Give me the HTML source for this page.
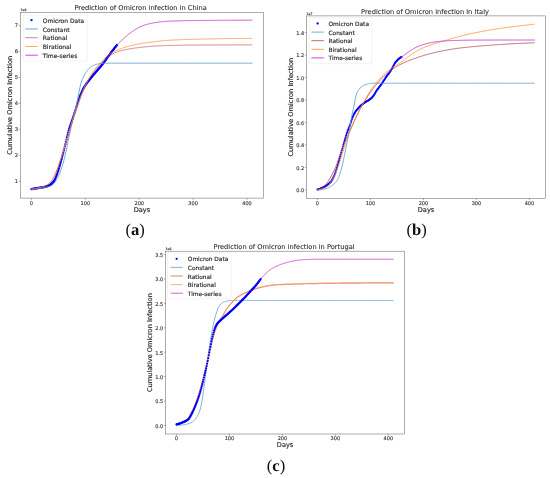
<!DOCTYPE html>
<html><head><meta charset="utf-8"><title>Prediction of Omicron infection</title>
<style>
html,body{margin:0;padding:0;background:#fff;}
body{width:550px;height:478px;overflow:hidden;}
svg{display:block;}
svg text{text-rendering:geometricPrecision;}
.t{stroke:#2a2a2a;stroke-width:0.16px;}
.tt{stroke:#2a2a2a;stroke-width:0.08px;}
.tk{stroke:#333;stroke-width:0.12px;}
</style></head>
<body>
<svg width="550" height="478" viewBox="0 0 550 478" font-family="'DejaVu Sans','Liberation Sans',sans-serif">
<rect width="550" height="478" fill="#fff"/>
<g id="china">
<g fill="#0000ff"><circle cx="31.45" cy="189.20" r="1.15"/><circle cx="31.99" cy="189.10" r="1.15"/><circle cx="32.53" cy="189.01" r="1.15"/><circle cx="33.07" cy="188.91" r="1.15"/><circle cx="33.61" cy="188.82" r="1.15"/><circle cx="34.14" cy="188.73" r="1.15"/><circle cx="34.68" cy="188.63" r="1.15"/><circle cx="35.22" cy="188.54" r="1.15"/><circle cx="35.76" cy="188.44" r="1.15"/><circle cx="36.30" cy="188.35" r="1.15"/><circle cx="36.84" cy="188.25" r="1.15"/><circle cx="37.38" cy="188.16" r="1.15"/><circle cx="37.92" cy="188.07" r="1.15"/><circle cx="38.45" cy="187.98" r="1.15"/><circle cx="38.99" cy="187.90" r="1.15"/><circle cx="39.53" cy="187.82" r="1.15"/><circle cx="40.07" cy="187.74" r="1.15"/><circle cx="40.61" cy="187.66" r="1.15"/><circle cx="41.15" cy="187.58" r="1.15"/><circle cx="41.69" cy="187.49" r="1.15"/><circle cx="42.23" cy="187.40" r="1.15"/><circle cx="42.76" cy="187.31" r="1.15"/><circle cx="43.30" cy="187.21" r="1.15"/><circle cx="43.84" cy="187.10" r="1.15"/><circle cx="44.38" cy="186.99" r="1.15"/><circle cx="44.92" cy="186.86" r="1.15"/><circle cx="45.46" cy="186.72" r="1.15"/><circle cx="46.00" cy="186.58" r="1.15"/><circle cx="46.54" cy="186.41" r="1.15"/><circle cx="47.08" cy="186.24" r="1.15"/><circle cx="47.61" cy="186.05" r="1.15"/><circle cx="48.15" cy="185.84" r="1.15"/><circle cx="48.69" cy="185.61" r="1.15"/><circle cx="49.23" cy="185.35" r="1.15"/><circle cx="49.77" cy="185.08" r="1.15"/><circle cx="50.31" cy="184.78" r="1.15"/><circle cx="50.85" cy="184.43" r="1.15"/><circle cx="51.39" cy="184.01" r="1.15"/><circle cx="51.92" cy="183.52" r="1.15"/><circle cx="52.46" cy="182.97" r="1.15"/><circle cx="53.00" cy="182.35" r="1.15"/><circle cx="53.54" cy="181.66" r="1.15"/><circle cx="54.08" cy="180.91" r="1.15"/><circle cx="54.62" cy="180.10" r="1.15"/><circle cx="55.16" cy="179.11" r="1.15"/><circle cx="55.70" cy="177.86" r="1.15"/><circle cx="56.23" cy="176.44" r="1.15"/><circle cx="56.77" cy="174.91" r="1.15"/><circle cx="57.31" cy="173.34" r="1.15"/><circle cx="57.85" cy="171.78" r="1.15"/><circle cx="58.39" cy="170.16" r="1.15"/><circle cx="58.93" cy="168.46" r="1.15"/><circle cx="59.47" cy="166.70" r="1.15"/><circle cx="60.01" cy="164.89" r="1.15"/><circle cx="60.55" cy="163.02" r="1.15"/><circle cx="61.08" cy="161.12" r="1.15"/><circle cx="61.62" cy="159.16" r="1.15"/><circle cx="62.16" cy="157.12" r="1.15"/><circle cx="62.70" cy="155.03" r="1.15"/><circle cx="63.24" cy="152.88" r="1.15"/><circle cx="63.78" cy="150.71" r="1.15"/><circle cx="64.32" cy="148.53" r="1.15"/><circle cx="64.86" cy="146.35" r="1.15"/><circle cx="65.39" cy="144.16" r="1.15"/><circle cx="65.93" cy="141.89" r="1.15"/><circle cx="66.47" cy="139.56" r="1.15"/><circle cx="67.01" cy="137.24" r="1.15"/><circle cx="67.55" cy="134.96" r="1.15"/><circle cx="68.09" cy="132.78" r="1.15"/><circle cx="68.63" cy="130.75" r="1.15"/><circle cx="69.17" cy="128.91" r="1.15"/><circle cx="69.70" cy="127.20" r="1.15"/><circle cx="70.24" cy="125.58" r="1.15"/><circle cx="70.78" cy="124.02" r="1.15"/><circle cx="71.32" cy="122.49" r="1.15"/><circle cx="71.86" cy="120.96" r="1.15"/><circle cx="72.40" cy="119.39" r="1.15"/><circle cx="72.94" cy="117.76" r="1.15"/><circle cx="73.48" cy="116.10" r="1.15"/><circle cx="74.02" cy="114.43" r="1.15"/><circle cx="74.55" cy="112.76" r="1.15"/><circle cx="75.09" cy="111.08" r="1.15"/><circle cx="75.63" cy="109.41" r="1.15"/><circle cx="76.17" cy="107.74" r="1.15"/><circle cx="76.71" cy="106.08" r="1.15"/><circle cx="77.25" cy="104.44" r="1.15"/><circle cx="77.79" cy="102.78" r="1.15"/><circle cx="78.33" cy="101.08" r="1.15"/><circle cx="78.86" cy="99.39" r="1.15"/><circle cx="79.40" cy="97.75" r="1.15"/><circle cx="79.94" cy="96.22" r="1.15"/><circle cx="80.48" cy="94.82" r="1.15"/><circle cx="81.02" cy="93.54" r="1.15"/><circle cx="81.56" cy="92.32" r="1.15"/><circle cx="82.10" cy="91.15" r="1.15"/><circle cx="82.64" cy="90.04" r="1.15"/><circle cx="83.17" cy="88.99" r="1.15"/><circle cx="83.71" cy="87.99" r="1.15"/><circle cx="84.25" cy="87.04" r="1.15"/><circle cx="84.79" cy="86.15" r="1.15"/><circle cx="85.33" cy="85.31" r="1.15"/><circle cx="85.87" cy="84.50" r="1.15"/><circle cx="86.41" cy="83.74" r="1.15"/><circle cx="86.95" cy="83.01" r="1.15"/><circle cx="87.49" cy="82.30" r="1.15"/><circle cx="88.02" cy="81.60" r="1.15"/><circle cx="88.56" cy="80.92" r="1.15"/><circle cx="89.10" cy="80.24" r="1.15"/><circle cx="89.64" cy="79.56" r="1.15"/><circle cx="90.18" cy="78.88" r="1.15"/><circle cx="90.72" cy="78.20" r="1.15"/><circle cx="91.26" cy="77.54" r="1.15"/><circle cx="91.80" cy="76.89" r="1.15"/><circle cx="92.33" cy="76.24" r="1.15"/><circle cx="92.87" cy="75.60" r="1.15"/><circle cx="93.41" cy="74.97" r="1.15"/><circle cx="93.95" cy="74.33" r="1.15"/><circle cx="94.49" cy="73.70" r="1.15"/><circle cx="95.03" cy="73.07" r="1.15"/><circle cx="95.57" cy="72.44" r="1.15"/><circle cx="96.11" cy="71.81" r="1.15"/><circle cx="96.64" cy="71.17" r="1.15"/><circle cx="97.18" cy="70.55" r="1.15"/><circle cx="97.72" cy="69.92" r="1.15"/><circle cx="98.26" cy="69.31" r="1.15"/><circle cx="98.80" cy="68.69" r="1.15"/><circle cx="99.34" cy="68.07" r="1.15"/><circle cx="99.88" cy="67.45" r="1.15"/><circle cx="100.42" cy="66.82" r="1.15"/><circle cx="100.96" cy="66.19" r="1.15"/><circle cx="101.49" cy="65.54" r="1.15"/><circle cx="102.03" cy="64.87" r="1.15"/><circle cx="102.57" cy="64.19" r="1.15"/><circle cx="103.11" cy="63.49" r="1.15"/><circle cx="103.65" cy="62.77" r="1.15"/><circle cx="104.19" cy="62.04" r="1.15"/><circle cx="104.73" cy="61.29" r="1.15"/><circle cx="105.27" cy="60.54" r="1.15"/><circle cx="105.80" cy="59.77" r="1.15"/><circle cx="106.34" cy="59.01" r="1.15"/><circle cx="106.88" cy="58.24" r="1.15"/><circle cx="107.42" cy="57.48" r="1.15"/><circle cx="107.96" cy="56.73" r="1.15"/><circle cx="108.50" cy="55.98" r="1.15"/><circle cx="109.04" cy="55.26" r="1.15"/><circle cx="109.58" cy="54.54" r="1.15"/><circle cx="110.11" cy="53.83" r="1.15"/><circle cx="110.65" cy="53.12" r="1.15"/><circle cx="111.19" cy="52.41" r="1.15"/><circle cx="111.73" cy="51.71" r="1.15"/><circle cx="112.27" cy="51.01" r="1.15"/><circle cx="112.81" cy="50.32" r="1.15"/><circle cx="113.35" cy="49.63" r="1.15"/><circle cx="113.89" cy="48.94" r="1.15"/><circle cx="114.43" cy="48.26" r="1.15"/><circle cx="114.96" cy="47.58" r="1.15"/><circle cx="115.50" cy="46.90" r="1.15"/><circle cx="116.04" cy="46.23" r="1.15"/><circle cx="116.58" cy="45.56" r="1.15"/><circle cx="117.12" cy="44.90" r="1.15"/></g>
<path d="M31.45,189.20 L31.99,189.19 L32.53,189.18 L33.07,189.16 L33.61,189.13 L34.14,189.10 L34.68,189.06 L35.22,189.02 L35.76,188.97 L36.30,188.92 L36.84,188.87 L37.38,188.81 L37.92,188.74 L38.45,188.68 L38.99,188.61 L39.53,188.54 L40.07,188.46 L40.61,188.39 L41.15,188.31 L41.69,188.24 L42.23,188.16 L42.76,188.08 L43.30,187.99 L43.84,187.89 L44.38,187.79 L44.92,187.68 L45.46,187.56 L46.00,187.44 L46.54,187.30 L47.08,187.16 L47.61,187.00 L48.15,186.84 L48.69,186.66 L49.23,186.48 L49.77,186.28 L50.31,186.07 L50.85,185.82 L51.39,185.54 L51.92,185.21 L52.46,184.83 L53.00,184.42 L53.54,183.95 L54.08,183.44 L54.62,182.84 L55.16,182.15 L55.70,181.35 L56.23,180.47 L56.77,179.53 L57.31,178.52 L57.85,177.47 L58.39,176.35 L58.93,175.15 L59.47,173.87 L60.01,172.51 L60.55,171.07 L61.08,169.55 L61.62,167.98 L62.16,166.34 L62.70,164.62 L63.24,162.80 L63.78,160.86 L64.32,158.80 L64.86,156.63 L65.39,154.36 L65.93,151.96 L66.47,149.39 L67.01,146.67 L67.55,143.90 L68.09,141.18 L68.63,138.57 L69.17,136.04 L69.70,133.56 L70.24,131.13 L70.78,128.73 L71.32,126.34 L71.86,123.97 L72.40,121.61 L72.94,119.29 L73.48,116.99 L74.02,114.72 L74.55,112.45 L75.09,110.15 L75.63,107.81 L76.17,105.39 L76.71,102.88 L77.25,100.28 L77.79,97.67 L78.33,95.08 L78.86,92.52 L79.40,89.96 L79.94,87.46 L80.48,85.12 L81.02,83.04 L81.56,81.28 L82.10,79.78 L82.64,78.44 L83.17,77.23 L83.71,76.12 L84.25,75.11 L84.79,74.17 L85.33,73.31 L85.87,72.51 L86.41,71.75 L86.95,71.02 L87.49,70.34 L88.02,69.69 L88.56,69.09 L89.10,68.52 L89.64,68.01 L90.18,67.55 L90.72,67.13 L91.26,66.76 L91.80,66.42 L92.33,66.09 L92.87,65.79 L93.41,65.51 L93.95,65.25 L94.49,65.02 L95.03,64.80 L95.57,64.61 L96.11,64.44 L96.64,64.28 L97.18,64.14 L97.72,64.00 L98.26,63.87 L98.80,63.75 L99.34,63.64 L99.88,63.54 L100.42,63.47 L100.96,63.41 L101.49,63.37 L102.03,63.34 L102.57,63.31 L103.11,63.29 L103.65,63.27 L104.19,63.25 L104.73,63.23 L105.27,63.22 L105.80,63.21 L106.34,63.21 L106.88,63.20 L107.42,63.20 L107.96,63.20 L108.50,63.20 L109.04,63.20 L109.58,63.20 L110.11,63.20 L110.65,63.20 L111.19,63.20 L111.73,63.20 L112.27,63.20 L112.81,63.20 L113.35,63.20 L113.89,63.20 L114.43,63.20 L114.96,63.20 L115.50,63.20 L116.04,63.20 L116.58,63.20 L117.12,63.20 L117.66,63.20 L118.20,63.20 L118.74,63.20 L119.27,63.20 L119.81,63.20 L120.35,63.20 L120.89,63.20 L121.43,63.20 L121.97,63.20 L122.51,63.20 L123.05,63.20 L123.58,63.20 L124.12,63.20 L124.66,63.20 L125.20,63.20 L125.74,63.20 L126.28,63.20 L126.82,63.20 L127.36,63.20 L127.90,63.20 L128.43,63.20 L128.97,63.20 L129.51,63.20 L130.05,63.20 L130.59,63.20 L131.13,63.20 L131.67,63.20 L132.21,63.20 L132.74,63.20 L133.28,63.20 L133.82,63.20 L134.36,63.20 L134.90,63.20 L135.44,63.20 L135.98,63.20 L136.52,63.20 L137.05,63.20 L137.59,63.20 L138.13,63.20 L138.67,63.20 L139.21,63.20 L139.75,63.20 L140.29,63.20 L140.83,63.20 L141.37,63.20 L141.90,63.20 L142.44,63.20 L142.98,63.20 L143.52,63.20 L144.06,63.20 L144.60,63.20 L145.14,63.20 L145.68,63.20 L146.21,63.20 L146.75,63.20 L147.29,63.20 L147.83,63.20 L148.37,63.20 L148.91,63.20 L149.45,63.20 L149.99,63.20 L150.52,63.20 L151.06,63.20 L151.60,63.20 L152.14,63.20 L152.68,63.20 L153.22,63.20 L153.76,63.20 L154.30,63.20 L154.84,63.20 L155.37,63.20 L155.91,63.20 L156.45,63.20 L156.99,63.20 L157.53,63.20 L158.07,63.20 L158.61,63.20 L159.15,63.20 L159.68,63.20 L160.22,63.20 L160.76,63.20 L161.30,63.20 L161.84,63.20 L162.38,63.20 L162.92,63.20 L163.46,63.20 L163.99,63.20 L164.53,63.20 L165.07,63.20 L165.61,63.20 L166.15,63.20 L166.69,63.20 L167.23,63.20 L167.77,63.20 L168.31,63.20 L168.84,63.20 L169.38,63.20 L169.92,63.20 L170.46,63.20 L171.00,63.20 L171.54,63.20 L172.08,63.20 L172.62,63.20 L173.15,63.20 L173.69,63.20 L174.23,63.20 L174.77,63.20 L175.31,63.20 L175.85,63.20 L176.39,63.20 L176.93,63.20 L177.46,63.20 L178.00,63.20 L178.54,63.20 L179.08,63.20 L179.62,63.20 L180.16,63.20 L180.70,63.20 L181.24,63.20 L181.78,63.20 L182.31,63.20 L182.85,63.20 L183.39,63.20 L183.93,63.20 L184.47,63.20 L185.01,63.20 L185.55,63.20 L186.09,63.20 L186.62,63.20 L187.16,63.20 L187.70,63.20 L188.24,63.20 L188.78,63.20 L189.32,63.20 L189.86,63.20 L190.40,63.20 L190.93,63.20 L191.47,63.20 L192.01,63.20 L192.55,63.20 L193.09,63.20 L193.63,63.20 L194.17,63.20 L194.71,63.20 L195.25,63.20 L195.78,63.20 L196.32,63.20 L196.86,63.20 L197.40,63.20 L197.94,63.20 L198.48,63.20 L199.02,63.20 L199.56,63.20 L200.09,63.20 L200.63,63.20 L201.17,63.20 L201.71,63.20 L202.25,63.20 L202.79,63.20 L203.33,63.20 L203.87,63.20 L204.40,63.20 L204.94,63.20 L205.48,63.20 L206.02,63.20 L206.56,63.20 L207.10,63.20 L207.64,63.20 L208.18,63.20 L208.72,63.20 L209.25,63.20 L209.79,63.20 L210.33,63.20 L210.87,63.20 L211.41,63.20 L211.95,63.20 L212.49,63.20 L213.03,63.20 L213.56,63.20 L214.10,63.20 L214.64,63.20 L215.18,63.20 L215.72,63.20 L216.26,63.20 L216.80,63.20 L217.34,63.20 L217.87,63.20 L218.41,63.20 L218.95,63.20 L219.49,63.20 L220.03,63.20 L220.57,63.20 L221.11,63.20 L221.65,63.20 L222.19,63.20 L222.72,63.20 L223.26,63.20 L223.80,63.20 L224.34,63.20 L224.88,63.20 L225.42,63.20 L225.96,63.20 L226.50,63.20 L227.03,63.20 L227.57,63.20 L228.11,63.20 L228.65,63.20 L229.19,63.20 L229.73,63.20 L230.27,63.20 L230.81,63.20 L231.34,63.20 L231.88,63.20 L232.42,63.20 L232.96,63.20 L233.50,63.20 L234.04,63.20 L234.58,63.20 L235.12,63.20 L235.66,63.20 L236.19,63.20 L236.73,63.20 L237.27,63.20 L237.81,63.20 L238.35,63.20 L238.89,63.20 L239.43,63.20 L239.97,63.20 L240.50,63.20 L241.04,63.20 L241.58,63.20 L242.12,63.20 L242.66,63.20 L243.20,63.20 L243.74,63.20 L244.28,63.20 L244.81,63.20 L245.35,63.20 L245.89,63.20 L246.43,63.20 L246.97,63.20 L247.51,63.20 L248.05,63.20 L248.59,63.20 L249.13,63.20 L249.66,63.20 L250.20,63.20 L250.74,63.20 L251.28,63.20 L251.82,63.20 L252.36,63.20" fill="none" stroke="#5d9fd3" stroke-width="0.9" stroke-linejoin="round" stroke-linecap="butt" />
<path d="M31.45,189.19 L31.99,189.11 L32.53,189.03 L33.07,188.94 L33.61,188.85 L34.14,188.75 L34.68,188.66 L35.22,188.56 L35.76,188.45 L36.30,188.34 L36.84,188.23 L37.38,188.12 L37.92,188.00 L38.45,187.88 L38.99,187.76 L39.53,187.63 L40.07,187.51 L40.61,187.38 L41.15,187.25 L41.69,187.11 L42.23,186.97 L42.76,186.83 L43.30,186.67 L43.84,186.50 L44.38,186.32 L44.92,186.13 L45.46,185.91 L46.00,185.68 L46.54,185.41 L47.08,185.12 L47.61,184.78 L48.15,184.41 L48.69,184.00 L49.23,183.55 L49.77,183.05 L50.31,182.50 L50.85,181.90 L51.39,181.24 L51.92,180.52 L52.46,179.72 L53.00,178.84 L53.54,177.89 L54.08,176.85 L54.62,175.75 L55.16,174.58 L55.70,173.34 L56.23,172.05 L56.77,170.70 L57.31,169.29 L57.85,167.84 L58.39,166.34 L58.93,164.80 L59.47,163.24 L60.01,161.65 L60.55,160.05 L61.08,158.43 L61.62,156.80 L62.16,155.15 L62.70,153.50 L63.24,151.83 L63.78,150.15 L64.32,148.45 L64.86,146.73 L65.39,144.99 L65.93,143.22 L66.47,141.42 L67.01,139.59 L67.55,137.73 L68.09,135.84 L68.63,133.95 L69.17,132.05 L69.70,130.16 L70.24,128.30 L70.78,126.47 L71.32,124.67 L71.86,122.91 L72.40,121.19 L72.94,119.51 L73.48,117.86 L74.02,116.24 L74.55,114.65 L75.09,113.08 L75.63,111.54 L76.17,110.00 L76.71,108.48 L77.25,106.95 L77.79,105.43 L78.33,103.90 L78.86,102.37 L79.40,100.85 L79.94,99.33 L80.48,97.84 L81.02,96.37 L81.56,94.93 L82.10,93.53 L82.64,92.17 L83.17,90.85 L83.71,89.57 L84.25,88.34 L84.79,87.14 L85.33,85.97 L85.87,84.84 L86.41,83.75 L86.95,82.69 L87.49,81.66 L88.02,80.67 L88.56,79.71 L89.10,78.79 L89.64,77.89 L90.18,77.02 L90.72,76.17 L91.26,75.35 L91.80,74.55 L92.33,73.78 L92.87,73.02 L93.41,72.28 L93.95,71.55 L94.49,70.85 L95.03,70.16 L95.57,69.49 L96.11,68.83 L96.64,68.19 L97.18,67.56 L97.72,66.95 L98.26,66.35 L98.80,65.76 L99.34,65.19 L99.88,64.64 L100.42,64.09 L100.96,63.56 L101.49,63.03 L102.03,62.51 L102.57,62.00 L103.11,61.50 L103.65,61.00 L104.19,60.50 L104.73,60.00 L105.27,59.50 L105.80,59.01 L106.34,58.52 L106.88,58.05 L107.42,57.59 L107.96,57.14 L108.50,56.71 L109.04,56.30 L109.58,55.91 L110.11,55.54 L110.65,55.18 L111.19,54.84 L111.73,54.51 L112.27,54.20 L112.81,53.89 L113.35,53.60 L113.89,53.32 L114.43,53.05 L114.96,52.79 L115.50,52.55 L116.04,52.32 L116.58,52.10 L117.12,51.90 L117.66,51.71 L118.20,51.53 L118.74,51.35 L119.27,51.19 L119.81,51.03 L120.35,50.88 L120.89,50.73 L121.43,50.59 L121.97,50.45 L122.51,50.31 L123.05,50.19 L123.58,50.06 L124.12,49.94 L124.66,49.82 L125.20,49.70 L125.74,49.59 L126.28,49.48 L126.82,49.38 L127.36,49.28 L127.90,49.18 L128.43,49.08 L128.97,48.99 L129.51,48.89 L130.05,48.80 L130.59,48.72 L131.13,48.63 L131.67,48.55 L132.21,48.46 L132.74,48.38 L133.28,48.30 L133.82,48.23 L134.36,48.15 L134.90,48.07 L135.44,48.00 L135.98,47.93 L136.52,47.86 L137.05,47.79 L137.59,47.72 L138.13,47.65 L138.67,47.58 L139.21,47.52 L139.75,47.45 L140.29,47.39 L140.83,47.33 L141.37,47.27 L141.90,47.21 L142.44,47.15 L142.98,47.09 L143.52,47.04 L144.06,46.98 L144.60,46.93 L145.14,46.88 L145.68,46.83 L146.21,46.78 L146.75,46.73 L147.29,46.68 L147.83,46.64 L148.37,46.59 L148.91,46.55 L149.45,46.51 L149.99,46.46 L150.52,46.42 L151.06,46.38 L151.60,46.34 L152.14,46.30 L152.68,46.26 L153.22,46.23 L153.76,46.19 L154.30,46.15 L154.84,46.11 L155.37,46.08 L155.91,46.04 L156.45,46.01 L156.99,45.98 L157.53,45.94 L158.07,45.91 L158.61,45.88 L159.15,45.85 L159.68,45.82 L160.22,45.79 L160.76,45.76 L161.30,45.74 L161.84,45.71 L162.38,45.69 L162.92,45.67 L163.46,45.64 L163.99,45.62 L164.53,45.60 L165.07,45.59 L165.61,45.57 L166.15,45.55 L166.69,45.54 L167.23,45.52 L167.77,45.51 L168.31,45.50 L168.84,45.48 L169.38,45.47 L169.92,45.46 L170.46,45.45 L171.00,45.43 L171.54,45.42 L172.08,45.41 L172.62,45.40 L173.15,45.38 L173.69,45.37 L174.23,45.36 L174.77,45.35 L175.31,45.34 L175.85,45.33 L176.39,45.32 L176.93,45.31 L177.46,45.30 L178.00,45.29 L178.54,45.28 L179.08,45.27 L179.62,45.26 L180.16,45.25 L180.70,45.24 L181.24,45.23 L181.78,45.22 L182.31,45.21 L182.85,45.20 L183.39,45.20 L183.93,45.19 L184.47,45.18 L185.01,45.17 L185.55,45.16 L186.09,45.16 L186.62,45.15 L187.16,45.14 L187.70,45.14 L188.24,45.13 L188.78,45.12 L189.32,45.12 L189.86,45.11 L190.40,45.11 L190.93,45.10 L191.47,45.09 L192.01,45.09 L192.55,45.08 L193.09,45.08 L193.63,45.07 L194.17,45.07 L194.71,45.06 L195.25,45.06 L195.78,45.06 L196.32,45.05 L196.86,45.05 L197.40,45.05 L197.94,45.04 L198.48,45.04 L199.02,45.04 L199.56,45.03 L200.09,45.03 L200.63,45.03 L201.17,45.03 L201.71,45.02 L202.25,45.02 L202.79,45.02 L203.33,45.02 L203.87,45.01 L204.40,45.01 L204.94,45.01 L205.48,45.01 L206.02,45.00 L206.56,45.00 L207.10,45.00 L207.64,45.00 L208.18,45.00 L208.72,44.99 L209.25,44.99 L209.79,44.99 L210.33,44.99 L210.87,44.99 L211.41,44.98 L211.95,44.98 L212.49,44.98 L213.03,44.98 L213.56,44.98 L214.10,44.97 L214.64,44.97 L215.18,44.97 L215.72,44.97 L216.26,44.97 L216.80,44.96 L217.34,44.96 L217.87,44.96 L218.41,44.96 L218.95,44.96 L219.49,44.96 L220.03,44.95 L220.57,44.95 L221.11,44.95 L221.65,44.95 L222.19,44.95 L222.72,44.95 L223.26,44.94 L223.80,44.94 L224.34,44.94 L224.88,44.94 L225.42,44.94 L225.96,44.94 L226.50,44.93 L227.03,44.93 L227.57,44.93 L228.11,44.93 L228.65,44.93 L229.19,44.93 L229.73,44.93 L230.27,44.93 L230.81,44.92 L231.34,44.92 L231.88,44.92 L232.42,44.92 L232.96,44.92 L233.50,44.92 L234.04,44.92 L234.58,44.92 L235.12,44.92 L235.66,44.92 L236.19,44.91 L236.73,44.91 L237.27,44.91 L237.81,44.91 L238.35,44.91 L238.89,44.91 L239.43,44.91 L239.97,44.91 L240.50,44.91 L241.04,44.91 L241.58,44.91 L242.12,44.91 L242.66,44.91 L243.20,44.90 L243.74,44.90 L244.28,44.90 L244.81,44.90 L245.35,44.90 L245.89,44.90 L246.43,44.90 L246.97,44.90 L247.51,44.90 L248.05,44.90 L248.59,44.90 L249.13,44.90 L249.66,44.90 L250.20,44.90 L250.74,44.90 L251.28,44.90 L251.82,44.90 L252.36,44.90" fill="none" stroke="#b84848" stroke-width="0.65" stroke-linejoin="round" stroke-linecap="butt" />
<path d="M31.45,189.19 L31.99,189.11 L32.53,189.04 L33.07,188.96 L33.61,188.87 L34.14,188.78 L34.68,188.68 L35.22,188.58 L35.76,188.48 L36.30,188.37 L36.84,188.25 L37.38,188.13 L37.92,188.01 L38.45,187.89 L38.99,187.76 L39.53,187.63 L40.07,187.49 L40.61,187.35 L41.15,187.21 L41.69,187.06 L42.23,186.90 L42.76,186.73 L43.30,186.55 L43.84,186.37 L44.38,186.16 L44.92,185.94 L45.46,185.70 L46.00,185.44 L46.54,185.15 L47.08,184.83 L47.61,184.47 L48.15,184.08 L48.69,183.64 L49.23,183.16 L49.77,182.64 L50.31,182.06 L50.85,181.44 L51.39,180.76 L51.92,180.02 L52.46,179.21 L53.00,178.32 L53.54,177.36 L54.08,176.33 L54.62,175.22 L55.16,174.04 L55.70,172.80 L56.23,171.49 L56.77,170.13 L57.31,168.70 L57.85,167.22 L58.39,165.69 L58.93,164.13 L59.47,162.54 L60.01,160.92 L60.55,159.30 L61.08,157.67 L61.62,156.02 L62.16,154.37 L62.70,152.72 L63.24,151.05 L63.78,149.36 L64.32,147.67 L64.86,145.95 L65.39,144.21 L65.93,142.44 L66.47,140.64 L67.01,138.81 L67.55,136.95 L68.09,135.07 L68.63,133.17 L69.17,131.27 L69.70,129.38 L70.24,127.52 L70.78,125.69 L71.32,123.89 L71.86,122.13 L72.40,120.40 L72.94,118.71 L73.48,117.04 L74.02,115.40 L74.55,113.79 L75.09,112.20 L75.63,110.62 L76.17,109.06 L76.71,107.51 L77.25,105.97 L77.79,104.44 L78.33,102.91 L78.86,101.39 L79.40,99.89 L79.94,98.40 L80.48,96.93 L81.02,95.49 L81.56,94.08 L82.10,92.72 L82.64,91.39 L83.17,90.11 L83.71,88.87 L84.25,87.67 L84.79,86.50 L85.33,85.36 L85.87,84.26 L86.41,83.18 L86.95,82.13 L87.49,81.10 L88.02,80.10 L88.56,79.11 L89.10,78.15 L89.64,77.22 L90.18,76.30 L90.72,75.40 L91.26,74.53 L91.80,73.68 L92.33,72.85 L92.87,72.05 L93.41,71.26 L93.95,70.51 L94.49,69.77 L95.03,69.05 L95.57,68.35 L96.11,67.66 L96.64,66.99 L97.18,66.34 L97.72,65.69 L98.26,65.06 L98.80,64.44 L99.34,63.82 L99.88,63.22 L100.42,62.62 L100.96,62.03 L101.49,61.46 L102.03,60.89 L102.57,60.33 L103.11,59.78 L103.65,59.24 L104.19,58.71 L104.73,58.19 L105.27,57.68 L105.80,57.18 L106.34,56.69 L106.88,56.21 L107.42,55.75 L107.96,55.31 L108.50,54.88 L109.04,54.48 L109.58,54.09 L110.11,53.73 L110.65,53.38 L111.19,53.05 L111.73,52.73 L112.27,52.42 L112.81,52.13 L113.35,51.84 L113.89,51.56 L114.43,51.30 L114.96,51.04 L115.50,50.79 L116.04,50.55 L116.58,50.31 L117.12,50.09 L117.66,49.86 L118.20,49.65 L118.74,49.44 L119.27,49.23 L119.81,49.02 L120.35,48.83 L120.89,48.63 L121.43,48.44 L121.97,48.25 L122.51,48.06 L123.05,47.88 L123.58,47.71 L124.12,47.53 L124.66,47.36 L125.20,47.19 L125.74,47.03 L126.28,46.87 L126.82,46.71 L127.36,46.56 L127.90,46.40 L128.43,46.26 L128.97,46.11 L129.51,45.97 L130.05,45.83 L130.59,45.70 L131.13,45.56 L131.67,45.43 L132.21,45.31 L132.74,45.18 L133.28,45.06 L133.82,44.94 L134.36,44.83 L134.90,44.71 L135.44,44.60 L135.98,44.49 L136.52,44.39 L137.05,44.28 L137.59,44.18 L138.13,44.08 L138.67,43.98 L139.21,43.89 L139.75,43.79 L140.29,43.70 L140.83,43.61 L141.37,43.52 L141.90,43.43 L142.44,43.35 L142.98,43.26 L143.52,43.18 L144.06,43.10 L144.60,43.02 L145.14,42.94 L145.68,42.87 L146.21,42.79 L146.75,42.72 L147.29,42.65 L147.83,42.58 L148.37,42.51 L148.91,42.44 L149.45,42.37 L149.99,42.30 L150.52,42.23 L151.06,42.16 L151.60,42.09 L152.14,42.02 L152.68,41.95 L153.22,41.88 L153.76,41.82 L154.30,41.75 L154.84,41.68 L155.37,41.61 L155.91,41.54 L156.45,41.47 L156.99,41.40 L157.53,41.34 L158.07,41.27 L158.61,41.21 L159.15,41.15 L159.68,41.08 L160.22,41.02 L160.76,40.97 L161.30,40.91 L161.84,40.85 L162.38,40.80 L162.92,40.75 L163.46,40.70 L163.99,40.65 L164.53,40.61 L165.07,40.57 L165.61,40.53 L166.15,40.49 L166.69,40.45 L167.23,40.41 L167.77,40.38 L168.31,40.35 L168.84,40.31 L169.38,40.28 L169.92,40.25 L170.46,40.22 L171.00,40.19 L171.54,40.16 L172.08,40.13 L172.62,40.10 L173.15,40.07 L173.69,40.04 L174.23,40.01 L174.77,39.99 L175.31,39.96 L175.85,39.93 L176.39,39.91 L176.93,39.88 L177.46,39.86 L178.00,39.83 L178.54,39.81 L179.08,39.78 L179.62,39.76 L180.16,39.74 L180.70,39.71 L181.24,39.69 L181.78,39.67 L182.31,39.65 L182.85,39.63 L183.39,39.61 L183.93,39.59 L184.47,39.57 L185.01,39.55 L185.55,39.53 L186.09,39.51 L186.62,39.49 L187.16,39.48 L187.70,39.46 L188.24,39.44 L188.78,39.43 L189.32,39.41 L189.86,39.40 L190.40,39.38 L190.93,39.37 L191.47,39.35 L192.01,39.34 L192.55,39.32 L193.09,39.31 L193.63,39.30 L194.17,39.28 L194.71,39.27 L195.25,39.26 L195.78,39.25 L196.32,39.23 L196.86,39.22 L197.40,39.21 L197.94,39.19 L198.48,39.18 L199.02,39.17 L199.56,39.16 L200.09,39.14 L200.63,39.13 L201.17,39.12 L201.71,39.11 L202.25,39.09 L202.79,39.08 L203.33,39.07 L203.87,39.06 L204.40,39.04 L204.94,39.03 L205.48,39.02 L206.02,39.01 L206.56,39.00 L207.10,38.98 L207.64,38.97 L208.18,38.96 L208.72,38.95 L209.25,38.94 L209.79,38.93 L210.33,38.91 L210.87,38.90 L211.41,38.89 L211.95,38.88 L212.49,38.87 L213.03,38.86 L213.56,38.85 L214.10,38.84 L214.64,38.83 L215.18,38.82 L215.72,38.81 L216.26,38.79 L216.80,38.78 L217.34,38.77 L217.87,38.76 L218.41,38.75 L218.95,38.74 L219.49,38.73 L220.03,38.72 L220.57,38.71 L221.11,38.70 L221.65,38.70 L222.19,38.69 L222.72,38.68 L223.26,38.67 L223.80,38.66 L224.34,38.65 L224.88,38.64 L225.42,38.63 L225.96,38.62 L226.50,38.62 L227.03,38.61 L227.57,38.60 L228.11,38.59 L228.65,38.58 L229.19,38.58 L229.73,38.57 L230.27,38.56 L230.81,38.55 L231.34,38.55 L231.88,38.54 L232.42,38.53 L232.96,38.53 L233.50,38.52 L234.04,38.51 L234.58,38.51 L235.12,38.50 L235.66,38.50 L236.19,38.49 L236.73,38.48 L237.27,38.48 L237.81,38.47 L238.35,38.47 L238.89,38.46 L239.43,38.46 L239.97,38.45 L240.50,38.45 L241.04,38.45 L241.58,38.44 L242.12,38.44 L242.66,38.43 L243.20,38.43 L243.74,38.43 L244.28,38.42 L244.81,38.42 L245.35,38.42 L245.89,38.42 L246.43,38.41 L246.97,38.41 L247.51,38.41 L248.05,38.41 L248.59,38.41 L249.13,38.40 L249.66,38.40 L250.20,38.40 L250.74,38.40 L251.28,38.40 L251.82,38.40 L252.36,38.40" fill="none" stroke="#ff8a2a" stroke-width="0.75" stroke-linejoin="round" stroke-linecap="butt" />
<path d="M116.58,45.51 L117.12,44.95 L117.66,44.40 L118.20,43.85 L118.74,43.32 L119.27,42.79 L119.81,42.27 L120.35,41.76 L120.89,41.24 L121.43,40.73 L121.97,40.22 L122.51,39.72 L123.05,39.21 L123.58,38.70 L124.12,38.20 L124.66,37.70 L125.20,37.21 L125.74,36.73 L126.28,36.25 L126.82,35.79 L127.36,35.33 L127.90,34.89 L128.43,34.45 L128.97,34.03 L129.51,33.61 L130.05,33.20 L130.59,32.79 L131.13,32.40 L131.67,32.01 L132.21,31.62 L132.74,31.25 L133.28,30.88 L133.82,30.52 L134.36,30.17 L134.90,29.83 L135.44,29.49 L135.98,29.16 L136.52,28.83 L137.05,28.51 L137.59,28.20 L138.13,27.89 L138.67,27.60 L139.21,27.31 L139.75,27.03 L140.29,26.76 L140.83,26.50 L141.37,26.26 L141.90,26.03 L142.44,25.82 L142.98,25.61 L143.52,25.42 L144.06,25.24 L144.60,25.06 L145.14,24.89 L145.68,24.72 L146.21,24.56 L146.75,24.41 L147.29,24.26 L147.83,24.11 L148.37,23.97 L148.91,23.83 L149.45,23.70 L149.99,23.57 L150.52,23.45 L151.06,23.33 L151.60,23.22 L152.14,23.11 L152.68,23.01 L153.22,22.91 L153.76,22.81 L154.30,22.72 L154.84,22.64 L155.37,22.55 L155.91,22.47 L156.45,22.40 L156.99,22.32 L157.53,22.25 L158.07,22.18 L158.61,22.11 L159.15,22.04 L159.68,21.98 L160.22,21.91 L160.76,21.85 L161.30,21.79 L161.84,21.73 L162.38,21.68 L162.92,21.63 L163.46,21.58 L163.99,21.53 L164.53,21.48 L165.07,21.44 L165.61,21.40 L166.15,21.36 L166.69,21.33 L167.23,21.30 L167.77,21.27 L168.31,21.24 L168.84,21.22 L169.38,21.19 L169.92,21.17 L170.46,21.15 L171.00,21.13 L171.54,21.11 L172.08,21.08 L172.62,21.06 L173.15,21.04 L173.69,21.02 L174.23,21.01 L174.77,20.99 L175.31,20.97 L175.85,20.95 L176.39,20.93 L176.93,20.91 L177.46,20.90 L178.00,20.88 L178.54,20.86 L179.08,20.85 L179.62,20.83 L180.16,20.82 L180.70,20.80 L181.24,20.79 L181.78,20.77 L182.31,20.76 L182.85,20.75 L183.39,20.73 L183.93,20.72 L184.47,20.71 L185.01,20.69 L185.55,20.68 L186.09,20.67 L186.62,20.66 L187.16,20.65 L187.70,20.64 L188.24,20.63 L188.78,20.62 L189.32,20.61 L189.86,20.60 L190.40,20.59 L190.93,20.58 L191.47,20.57 L192.01,20.56 L192.55,20.55 L193.09,20.54 L193.63,20.54 L194.17,20.53 L194.71,20.52 L195.25,20.51 L195.78,20.51 L196.32,20.50 L196.86,20.49 L197.40,20.49 L197.94,20.48 L198.48,20.48 L199.02,20.47 L199.56,20.47 L200.09,20.46 L200.63,20.46 L201.17,20.45 L201.71,20.45 L202.25,20.44 L202.79,20.44 L203.33,20.43 L203.87,20.43 L204.40,20.42 L204.94,20.42 L205.48,20.41 L206.02,20.41 L206.56,20.41 L207.10,20.40 L207.64,20.40 L208.18,20.39 L208.72,20.39 L209.25,20.38 L209.79,20.38 L210.33,20.38 L210.87,20.37 L211.41,20.37 L211.95,20.36 L212.49,20.36 L213.03,20.36 L213.56,20.35 L214.10,20.35 L214.64,20.34 L215.18,20.34 L215.72,20.34 L216.26,20.33 L216.80,20.33 L217.34,20.33 L217.87,20.32 L218.41,20.32 L218.95,20.32 L219.49,20.31 L220.03,20.31 L220.57,20.31 L221.11,20.30 L221.65,20.30 L222.19,20.30 L222.72,20.29 L223.26,20.29 L223.80,20.29 L224.34,20.28 L224.88,20.28 L225.42,20.28 L225.96,20.27 L226.50,20.27 L227.03,20.27 L227.57,20.27 L228.11,20.26 L228.65,20.26 L229.19,20.26 L229.73,20.26 L230.27,20.25 L230.81,20.25 L231.34,20.25 L231.88,20.25 L232.42,20.24 L232.96,20.24 L233.50,20.24 L234.04,20.24 L234.58,20.24 L235.12,20.23 L235.66,20.23 L236.19,20.23 L236.73,20.23 L237.27,20.23 L237.81,20.22 L238.35,20.22 L238.89,20.22 L239.43,20.22 L239.97,20.22 L240.50,20.22 L241.04,20.21 L241.58,20.21 L242.12,20.21 L242.66,20.21 L243.20,20.21 L243.74,20.21 L244.28,20.21 L244.81,20.21 L245.35,20.21 L245.89,20.21 L246.43,20.20 L246.97,20.20 L247.51,20.20 L248.05,20.20 L248.59,20.20 L249.13,20.20 L249.66,20.20 L250.20,20.20 L250.74,20.20 L251.28,20.20 L251.82,20.20 L252.36,20.20" fill="none" stroke="#d04ad0" stroke-width="1.0" stroke-linejoin="round" stroke-linecap="butt" />
<rect x="20.4" y="12.3" width="243.00" height="185.80" fill="none" stroke="#6a6a6a" stroke-width="0.55"/>
<line x1="31.45" y1="198.1" x2="31.45" y2="199.80" stroke="#555" stroke-width="0.45"/>
<text transform="translate(31.45,205.00) scale(1,1.0)" font-size="5.0" text-anchor="middle" class="tk" fill="#333">0</text>
<line x1="85.33" y1="198.1" x2="85.33" y2="199.80" stroke="#555" stroke-width="0.45"/>
<text transform="translate(85.33,205.00) scale(1,1.0)" font-size="5.0" text-anchor="middle" class="tk" fill="#333">100</text>
<line x1="139.21" y1="198.1" x2="139.21" y2="199.80" stroke="#555" stroke-width="0.45"/>
<text transform="translate(139.21,205.00) scale(1,1.0)" font-size="5.0" text-anchor="middle" class="tk" fill="#333">200</text>
<line x1="193.09" y1="198.1" x2="193.09" y2="199.80" stroke="#555" stroke-width="0.45"/>
<text transform="translate(193.09,205.00) scale(1,1.0)" font-size="5.0" text-anchor="middle" class="tk" fill="#333">300</text>
<line x1="246.97" y1="198.1" x2="246.97" y2="199.80" stroke="#555" stroke-width="0.45"/>
<text transform="translate(246.97,205.00) scale(1,1.0)" font-size="5.0" text-anchor="middle" class="tk" fill="#333">400</text>
<line x1="18.70" y1="181.40" x2="20.4" y2="181.40" stroke="#555" stroke-width="0.45"/>
<text transform="translate(18.00,183.25) scale(1,1.0)" font-size="5.2" text-anchor="end" class="tk" fill="#333">1</text>
<line x1="18.70" y1="155.40" x2="20.4" y2="155.40" stroke="#555" stroke-width="0.45"/>
<text transform="translate(18.00,157.25) scale(1,1.0)" font-size="5.2" text-anchor="end" class="tk" fill="#333">2</text>
<line x1="18.70" y1="129.40" x2="20.4" y2="129.40" stroke="#555" stroke-width="0.45"/>
<text transform="translate(18.00,131.25) scale(1,1.0)" font-size="5.2" text-anchor="end" class="tk" fill="#333">3</text>
<line x1="18.70" y1="103.40" x2="20.4" y2="103.40" stroke="#555" stroke-width="0.45"/>
<text transform="translate(18.00,105.25) scale(1,1.0)" font-size="5.2" text-anchor="end" class="tk" fill="#333">4</text>
<line x1="18.70" y1="77.40" x2="20.4" y2="77.40" stroke="#555" stroke-width="0.45"/>
<text transform="translate(18.00,79.25) scale(1,1.0)" font-size="5.2" text-anchor="end" class="tk" fill="#333">5</text>
<line x1="18.70" y1="51.40" x2="20.4" y2="51.40" stroke="#555" stroke-width="0.45"/>
<text transform="translate(18.00,53.25) scale(1,1.0)" font-size="5.2" text-anchor="end" class="tk" fill="#333">6</text>
<line x1="18.70" y1="25.40" x2="20.4" y2="25.40" stroke="#555" stroke-width="0.45"/>
<text transform="translate(18.00,27.25) scale(1,1.0)" font-size="5.2" text-anchor="end" class="tk" fill="#333">7</text>
<text x="20.40" y="11.00" font-size="3.2" class="t" fill="#444">1e6</text>
<text x="140.65" y="10.20" font-size="6.68" text-anchor="middle" class="tt" fill="#2a2a2a">Prediction of Omicron infection in China</text>
<text x="141.90" y="211.70" font-size="6.6" text-anchor="middle" class="t" fill="#2a2a2a">Days</text>
<text transform="translate(12.40,105.20) rotate(-90)" x="0" y="0" font-size="6.63" text-anchor="middle" class="t" fill="#2a2a2a">Cumulative Omicron Infection</text>
<rect x="23.2" y="15.0" width="64.0" height="46.0" rx="1.2" fill="#fff" fill-opacity="0.85" stroke="#e4e4e4" stroke-width="0.5"/>
<circle cx="31.55" cy="20.20" r="1.15" fill="#0000ff"/>
<text x="42.7" y="22.75" font-size="6.0" class="t" fill="#2a2a2a">Omicron Data</text>
<line x1="25.3" y1="28.95" x2="37.8" y2="28.95" stroke="#5d9fd3" stroke-width="0.9" />
<text x="42.7" y="31.50" font-size="6.0" class="t" fill="#2a2a2a">Constant</text>
<line x1="25.3" y1="37.70" x2="37.8" y2="37.70" stroke="#b84848" stroke-width="0.65" />
<text x="42.7" y="40.25" font-size="6.0" class="t" fill="#2a2a2a">Rational</text>
<line x1="25.3" y1="46.45" x2="37.8" y2="46.45" stroke="#ff8a2a" stroke-width="0.75" />
<text x="42.7" y="49.00" font-size="6.0" class="t" fill="#2a2a2a">Birational</text>
<line x1="25.3" y1="55.20" x2="37.8" y2="55.20" stroke="#d04ad0" stroke-width="1.0" />
<text x="42.7" y="57.75" font-size="6.0" class="t" fill="#2a2a2a">Time-series</text>
</g>
<g id="italy">
<g fill="#0000ff"><circle cx="317.40" cy="189.55" r="1.0"/><circle cx="317.93" cy="189.41" r="1.0"/><circle cx="318.46" cy="189.25" r="1.0"/><circle cx="318.99" cy="189.07" r="1.0"/><circle cx="319.52" cy="188.88" r="1.0"/><circle cx="320.05" cy="188.68" r="1.0"/><circle cx="320.58" cy="188.47" r="1.0"/><circle cx="321.11" cy="188.25" r="1.0"/><circle cx="321.64" cy="188.02" r="1.0"/><circle cx="322.17" cy="187.77" r="1.0"/><circle cx="322.70" cy="187.52" r="1.0"/><circle cx="323.23" cy="187.26" r="1.0"/><circle cx="323.76" cy="186.99" r="1.0"/><circle cx="324.29" cy="186.72" r="1.0"/><circle cx="324.82" cy="186.44" r="1.0"/><circle cx="325.35" cy="186.16" r="1.0"/><circle cx="325.88" cy="185.85" r="1.0"/><circle cx="326.41" cy="185.54" r="1.0"/><circle cx="326.94" cy="185.20" r="1.0"/><circle cx="327.47" cy="184.84" r="1.0"/><circle cx="328.00" cy="184.46" r="1.0"/><circle cx="328.53" cy="184.05" r="1.0"/><circle cx="329.06" cy="183.61" r="1.0"/><circle cx="329.59" cy="183.13" r="1.0"/><circle cx="330.12" cy="182.62" r="1.0"/><circle cx="330.65" cy="182.06" r="1.0"/><circle cx="331.18" cy="181.38" r="1.0"/><circle cx="331.71" cy="180.58" r="1.0"/><circle cx="332.24" cy="179.67" r="1.0"/><circle cx="332.77" cy="178.68" r="1.0"/><circle cx="333.30" cy="177.61" r="1.0"/><circle cx="333.83" cy="176.48" r="1.0"/><circle cx="334.36" cy="175.29" r="1.0"/><circle cx="334.89" cy="174.01" r="1.0"/><circle cx="335.42" cy="172.52" r="1.0"/><circle cx="335.95" cy="170.88" r="1.0"/><circle cx="336.48" cy="169.15" r="1.0"/><circle cx="337.01" cy="167.40" r="1.0"/><circle cx="337.54" cy="165.67" r="1.0"/><circle cx="338.07" cy="163.89" r="1.0"/><circle cx="338.60" cy="162.06" r="1.0"/><circle cx="339.13" cy="160.19" r="1.0"/><circle cx="339.66" cy="158.32" r="1.0"/><circle cx="340.19" cy="156.43" r="1.0"/><circle cx="340.72" cy="154.50" r="1.0"/><circle cx="341.25" cy="152.55" r="1.0"/><circle cx="341.78" cy="150.58" r="1.0"/><circle cx="342.31" cy="148.63" r="1.0"/><circle cx="342.84" cy="146.70" r="1.0"/><circle cx="343.37" cy="144.81" r="1.0"/><circle cx="343.90" cy="142.94" r="1.0"/><circle cx="344.43" cy="141.07" r="1.0"/><circle cx="344.96" cy="139.21" r="1.0"/><circle cx="345.49" cy="137.39" r="1.0"/><circle cx="346.02" cy="135.64" r="1.0"/><circle cx="346.55" cy="133.98" r="1.0"/><circle cx="347.08" cy="132.43" r="1.0"/><circle cx="347.61" cy="130.99" r="1.0"/><circle cx="348.14" cy="129.63" r="1.0"/><circle cx="348.67" cy="128.31" r="1.0"/><circle cx="349.20" cy="127.00" r="1.0"/><circle cx="349.73" cy="125.67" r="1.0"/><circle cx="350.26" cy="124.27" r="1.0"/><circle cx="350.79" cy="122.74" r="1.0"/><circle cx="351.32" cy="121.11" r="1.0"/><circle cx="351.85" cy="119.46" r="1.0"/><circle cx="352.38" cy="117.86" r="1.0"/><circle cx="352.91" cy="116.40" r="1.0"/><circle cx="353.44" cy="115.17" r="1.0"/><circle cx="353.97" cy="114.16" r="1.0"/><circle cx="354.50" cy="113.25" r="1.0"/><circle cx="355.03" cy="112.39" r="1.0"/><circle cx="355.56" cy="111.60" r="1.0"/><circle cx="356.09" cy="110.85" r="1.0"/><circle cx="356.62" cy="110.16" r="1.0"/><circle cx="357.15" cy="109.50" r="1.0"/><circle cx="357.68" cy="108.88" r="1.0"/><circle cx="358.21" cy="108.28" r="1.0"/><circle cx="358.74" cy="107.71" r="1.0"/><circle cx="359.27" cy="107.15" r="1.0"/><circle cx="359.80" cy="106.61" r="1.0"/><circle cx="360.33" cy="106.10" r="1.0"/><circle cx="360.86" cy="105.62" r="1.0"/><circle cx="361.39" cy="105.15" r="1.0"/><circle cx="361.92" cy="104.70" r="1.0"/><circle cx="362.45" cy="104.27" r="1.0"/><circle cx="362.98" cy="103.85" r="1.0"/><circle cx="363.51" cy="103.44" r="1.0"/><circle cx="364.04" cy="103.05" r="1.0"/><circle cx="364.57" cy="102.66" r="1.0"/><circle cx="365.10" cy="102.30" r="1.0"/><circle cx="365.63" cy="101.97" r="1.0"/><circle cx="366.16" cy="101.65" r="1.0"/><circle cx="366.69" cy="101.35" r="1.0"/><circle cx="367.22" cy="101.05" r="1.0"/><circle cx="367.75" cy="100.75" r="1.0"/><circle cx="368.28" cy="100.44" r="1.0"/><circle cx="368.81" cy="100.11" r="1.0"/><circle cx="369.34" cy="99.76" r="1.0"/><circle cx="369.87" cy="99.37" r="1.0"/><circle cx="370.40" cy="98.94" r="1.0"/><circle cx="370.93" cy="98.48" r="1.0"/><circle cx="371.46" cy="97.99" r="1.0"/><circle cx="371.99" cy="97.45" r="1.0"/><circle cx="372.52" cy="96.88" r="1.0"/><circle cx="373.05" cy="96.27" r="1.0"/><circle cx="373.58" cy="95.60" r="1.0"/><circle cx="374.11" cy="94.82" r="1.0"/><circle cx="374.64" cy="93.94" r="1.0"/><circle cx="375.17" cy="93.01" r="1.0"/><circle cx="375.70" cy="92.08" r="1.0"/><circle cx="376.23" cy="91.18" r="1.0"/><circle cx="376.76" cy="90.36" r="1.0"/><circle cx="377.29" cy="89.61" r="1.0"/><circle cx="377.82" cy="88.90" r="1.0"/><circle cx="378.35" cy="88.21" r="1.0"/><circle cx="378.88" cy="87.54" r="1.0"/><circle cx="379.41" cy="86.86" r="1.0"/><circle cx="379.94" cy="86.18" r="1.0"/><circle cx="380.47" cy="85.48" r="1.0"/><circle cx="381.00" cy="84.74" r="1.0"/><circle cx="381.53" cy="83.98" r="1.0"/><circle cx="382.06" cy="83.20" r="1.0"/><circle cx="382.59" cy="82.41" r="1.0"/><circle cx="383.12" cy="81.61" r="1.0"/><circle cx="383.65" cy="80.80" r="1.0"/><circle cx="384.18" cy="79.99" r="1.0"/><circle cx="384.71" cy="79.19" r="1.0"/><circle cx="385.24" cy="78.39" r="1.0"/><circle cx="385.77" cy="77.60" r="1.0"/><circle cx="386.30" cy="76.83" r="1.0"/><circle cx="386.83" cy="76.07" r="1.0"/><circle cx="387.36" cy="75.34" r="1.0"/><circle cx="387.89" cy="74.61" r="1.0"/><circle cx="388.42" cy="73.90" r="1.0"/><circle cx="388.95" cy="73.18" r="1.0"/><circle cx="389.48" cy="72.44" r="1.0"/><circle cx="390.01" cy="71.69" r="1.0"/><circle cx="390.54" cy="70.92" r="1.0"/><circle cx="391.07" cy="70.10" r="1.0"/><circle cx="391.60" cy="69.21" r="1.0"/><circle cx="392.13" cy="68.24" r="1.0"/><circle cx="392.66" cy="67.22" r="1.0"/><circle cx="393.19" cy="66.19" r="1.0"/><circle cx="393.72" cy="65.17" r="1.0"/><circle cx="394.25" cy="64.21" r="1.0"/><circle cx="394.78" cy="63.33" r="1.0"/><circle cx="395.31" cy="62.58" r="1.0"/><circle cx="395.84" cy="61.94" r="1.0"/><circle cx="396.37" cy="61.33" r="1.0"/><circle cx="396.90" cy="60.74" r="1.0"/><circle cx="397.43" cy="60.17" r="1.0"/><circle cx="397.96" cy="59.62" r="1.0"/><circle cx="398.49" cy="59.11" r="1.0"/><circle cx="399.02" cy="58.64" r="1.0"/><circle cx="399.55" cy="58.20" r="1.0"/><circle cx="400.08" cy="57.81" r="1.0"/><circle cx="400.61" cy="57.47" r="1.0"/><circle cx="401.14" cy="57.18" r="1.0"/><circle cx="401.67" cy="56.95" r="1.0"/></g>
<path d="M317.40,190.00 L317.93,189.98 L318.46,189.95 L318.99,189.91 L319.52,189.86 L320.05,189.81 L320.58,189.74 L321.11,189.67 L321.64,189.60 L322.17,189.52 L322.70,189.43 L323.23,189.34 L323.76,189.24 L324.29,189.12 L324.82,188.98 L325.35,188.84 L325.88,188.68 L326.41,188.51 L326.94,188.32 L327.47,188.13 L328.00,187.92 L328.53,187.69 L329.06,187.43 L329.59,187.14 L330.12,186.81 L330.65,186.46 L331.18,186.07 L331.71,185.67 L332.24,185.25 L332.77,184.81 L333.30,184.37 L333.83,183.93 L334.36,183.48 L334.89,183.00 L335.42,182.49 L335.95,181.93 L336.48,181.30 L337.01,180.57 L337.54,179.71 L338.07,178.69 L338.60,177.48 L339.13,176.10 L339.66,174.57 L340.19,172.93 L340.72,171.18 L341.25,169.34 L341.78,167.42 L342.31,165.36 L342.84,163.09 L343.37,160.60 L343.90,157.96 L344.43,155.25 L344.96,152.56 L345.49,149.93 L346.02,147.39 L346.55,144.89 L347.08,142.40 L347.61,139.88 L348.14,137.29 L348.67,134.58 L349.20,131.69 L349.73,128.52 L350.26,125.03 L350.79,121.44 L351.32,118.11 L351.85,115.31 L352.38,112.97 L352.91,110.83 L353.44,108.60 L353.97,106.07 L354.50,103.24 L355.03,100.32 L355.56,97.64 L356.09,95.47 L356.62,93.84 L357.15,92.57 L357.68,91.48 L358.21,90.54 L358.74,89.71 L359.27,88.99 L359.80,88.36 L360.33,87.82 L360.86,87.34 L361.39,86.90 L361.92,86.50 L362.45,86.13 L362.98,85.80 L363.51,85.51 L364.04,85.24 L364.57,85.02 L365.10,84.82 L365.63,84.64 L366.16,84.48 L366.69,84.32 L367.22,84.16 L367.75,84.01 L368.28,83.87 L368.81,83.74 L369.34,83.63 L369.87,83.52 L370.40,83.43 L370.93,83.36 L371.46,83.30 L371.99,83.27 L372.52,83.25 L373.05,83.24 L373.58,83.24 L374.11,83.24 L374.64,83.24 L375.17,83.24 L375.70,83.24 L376.23,83.24 L376.76,83.24 L377.29,83.24 L377.82,83.24 L378.35,83.24 L378.88,83.24 L379.41,83.24 L379.94,83.24 L380.47,83.24 L381.00,83.24 L381.53,83.24 L382.06,83.24 L382.59,83.24 L383.12,83.24 L383.65,83.24 L384.18,83.24 L384.71,83.24 L385.24,83.24 L385.77,83.24 L386.30,83.24 L386.83,83.24 L387.36,83.24 L387.89,83.24 L388.42,83.24 L388.95,83.24 L389.48,83.24 L390.01,83.24 L390.54,83.24 L391.07,83.24 L391.60,83.24 L392.13,83.24 L392.66,83.24 L393.19,83.24 L393.72,83.24 L394.25,83.24 L394.78,83.24 L395.31,83.24 L395.84,83.24 L396.37,83.24 L396.90,83.24 L397.43,83.24 L397.96,83.24 L398.49,83.24 L399.02,83.24 L399.55,83.24 L400.08,83.24 L400.61,83.24 L401.14,83.24 L401.67,83.24 L402.20,83.24 L402.73,83.24 L403.26,83.24 L403.79,83.24 L404.32,83.24 L404.85,83.24 L405.38,83.24 L405.91,83.24 L406.44,83.24 L406.97,83.24 L407.50,83.24 L408.03,83.24 L408.56,83.24 L409.09,83.24 L409.62,83.24 L410.15,83.24 L410.68,83.24 L411.21,83.24 L411.74,83.24 L412.27,83.24 L412.80,83.24 L413.33,83.24 L413.86,83.24 L414.39,83.24 L414.92,83.24 L415.45,83.24 L415.98,83.24 L416.51,83.24 L417.04,83.24 L417.57,83.24 L418.10,83.24 L418.63,83.24 L419.16,83.24 L419.69,83.24 L420.22,83.24 L420.75,83.24 L421.28,83.24 L421.81,83.24 L422.34,83.24 L422.87,83.24 L423.40,83.24 L423.93,83.24 L424.46,83.24 L424.99,83.24 L425.52,83.24 L426.05,83.24 L426.58,83.24 L427.11,83.24 L427.64,83.24 L428.17,83.24 L428.70,83.24 L429.23,83.24 L429.76,83.24 L430.29,83.24 L430.82,83.24 L431.35,83.24 L431.88,83.24 L432.41,83.24 L432.94,83.24 L433.47,83.24 L434.00,83.24 L434.53,83.24 L435.06,83.24 L435.59,83.24 L436.12,83.24 L436.65,83.24 L437.18,83.24 L437.71,83.24 L438.24,83.24 L438.77,83.24 L439.30,83.24 L439.83,83.24 L440.36,83.24 L440.89,83.24 L441.42,83.24 L441.95,83.24 L442.48,83.24 L443.01,83.24 L443.54,83.24 L444.07,83.24 L444.60,83.24 L445.13,83.24 L445.66,83.24 L446.19,83.24 L446.72,83.24 L447.25,83.24 L447.78,83.24 L448.31,83.24 L448.84,83.24 L449.37,83.24 L449.90,83.24 L450.43,83.24 L450.96,83.24 L451.49,83.24 L452.02,83.24 L452.55,83.24 L453.08,83.24 L453.61,83.24 L454.14,83.24 L454.67,83.24 L455.20,83.24 L455.73,83.24 L456.26,83.24 L456.79,83.24 L457.32,83.24 L457.85,83.24 L458.38,83.24 L458.91,83.24 L459.44,83.24 L459.97,83.24 L460.50,83.24 L461.03,83.24 L461.56,83.24 L462.09,83.24 L462.62,83.24 L463.15,83.24 L463.68,83.24 L464.21,83.24 L464.74,83.24 L465.27,83.24 L465.80,83.24 L466.33,83.24 L466.86,83.24 L467.39,83.24 L467.92,83.24 L468.45,83.24 L468.98,83.24 L469.51,83.24 L470.04,83.24 L470.57,83.24 L471.10,83.24 L471.63,83.24 L472.16,83.24 L472.69,83.24 L473.22,83.24 L473.75,83.24 L474.28,83.24 L474.81,83.24 L475.34,83.24 L475.87,83.24 L476.40,83.24 L476.93,83.24 L477.46,83.24 L477.99,83.24 L478.52,83.24 L479.05,83.24 L479.58,83.24 L480.11,83.24 L480.64,83.24 L481.17,83.24 L481.70,83.24 L482.23,83.24 L482.76,83.24 L483.29,83.24 L483.82,83.24 L484.35,83.24 L484.88,83.24 L485.41,83.24 L485.94,83.24 L486.47,83.24 L487.00,83.24 L487.53,83.24 L488.06,83.24 L488.59,83.24 L489.12,83.24 L489.65,83.24 L490.18,83.24 L490.71,83.24 L491.24,83.24 L491.77,83.24 L492.30,83.24 L492.83,83.24 L493.36,83.24 L493.89,83.24 L494.42,83.24 L494.95,83.24 L495.48,83.24 L496.01,83.24 L496.54,83.24 L497.07,83.24 L497.60,83.24 L498.13,83.24 L498.66,83.24 L499.19,83.24 L499.72,83.24 L500.25,83.24 L500.78,83.24 L501.31,83.24 L501.84,83.24 L502.37,83.24 L502.90,83.24 L503.43,83.24 L503.96,83.24 L504.49,83.24 L505.02,83.24 L505.55,83.24 L506.08,83.24 L506.61,83.24 L507.14,83.24 L507.67,83.24 L508.20,83.24 L508.73,83.24 L509.26,83.24 L509.79,83.24 L510.32,83.24 L510.85,83.24 L511.38,83.24 L511.91,83.24 L512.44,83.24 L512.97,83.24 L513.50,83.24 L514.03,83.24 L514.56,83.24 L515.09,83.24 L515.62,83.24 L516.15,83.24 L516.68,83.24 L517.21,83.24 L517.74,83.24 L518.27,83.24 L518.80,83.24 L519.33,83.24 L519.86,83.24 L520.39,83.24 L520.92,83.24 L521.45,83.24 L521.98,83.24 L522.51,83.24 L523.04,83.24 L523.57,83.24 L524.10,83.24 L524.63,83.24 L525.16,83.24 L525.69,83.24 L526.22,83.24 L526.75,83.24 L527.28,83.24 L527.81,83.24 L528.34,83.24 L528.87,83.24 L529.40,83.24 L529.93,83.24 L530.46,83.24 L530.99,83.24 L531.52,83.24 L532.05,83.24 L532.58,83.24 L533.11,83.24 L533.64,83.24 L534.17,83.24 L534.70,83.24" fill="none" stroke="#5b9bd0" stroke-width="0.85" stroke-linejoin="round" stroke-linecap="butt" />
<path d="M317.40,189.48 L317.93,189.38 L318.46,189.26 L318.99,189.13 L319.52,188.96 L320.05,188.78 L320.58,188.57 L321.11,188.33 L321.64,188.06 L322.17,187.76 L322.70,187.43 L323.23,187.06 L323.76,186.66 L324.29,186.21 L324.82,185.72 L325.35,185.19 L325.88,184.61 L326.41,183.98 L326.94,183.29 L327.47,182.55 L328.00,181.75 L328.53,180.90 L329.06,180.00 L329.59,179.07 L330.12,178.12 L330.65,177.14 L331.18,176.16 L331.71,175.16 L332.24,174.16 L332.77,173.15 L333.30,172.11 L333.83,171.05 L334.36,169.94 L334.89,168.77 L335.42,167.54 L335.95,166.24 L336.48,164.86 L337.01,163.41 L337.54,161.90 L338.07,160.36 L338.60,158.79 L339.13,157.24 L339.66,155.70 L340.19,154.21 L340.72,152.76 L341.25,151.35 L341.78,149.98 L342.31,148.64 L342.84,147.34 L343.37,146.06 L343.90,144.80 L344.43,143.56 L344.96,142.33 L345.49,141.11 L346.02,139.90 L346.55,138.69 L347.08,137.49 L347.61,136.29 L348.14,135.10 L348.67,133.90 L349.20,132.69 L349.73,131.49 L350.26,130.29 L350.79,129.08 L351.32,127.87 L351.85,126.67 L352.38,125.47 L352.91,124.27 L353.44,123.08 L353.97,121.89 L354.50,120.71 L355.03,119.54 L355.56,118.38 L356.09,117.23 L356.62,116.10 L357.15,114.97 L357.68,113.86 L358.21,112.77 L358.74,111.69 L359.27,110.64 L359.80,109.60 L360.33,108.58 L360.86,107.59 L361.39,106.61 L361.92,105.65 L362.45,104.71 L362.98,103.80 L363.51,102.89 L364.04,102.00 L364.57,101.13 L365.10,100.27 L365.63,99.42 L366.16,98.58 L366.69,97.75 L367.22,96.94 L367.75,96.13 L368.28,95.34 L368.81,94.56 L369.34,93.79 L369.87,93.03 L370.40,92.28 L370.93,91.55 L371.46,90.82 L371.99,90.11 L372.52,89.41 L373.05,88.72 L373.58,88.04 L374.11,87.36 L374.64,86.70 L375.17,86.05 L375.70,85.41 L376.23,84.78 L376.76,84.15 L377.29,83.53 L377.82,82.92 L378.35,82.31 L378.88,81.71 L379.41,81.12 L379.94,80.53 L380.47,79.95 L381.00,79.38 L381.53,78.81 L382.06,78.25 L382.59,77.70 L383.12,77.16 L383.65,76.63 L384.18,76.10 L384.71,75.59 L385.24,75.08 L385.77,74.59 L386.30,74.10 L386.83,73.63 L387.36,73.16 L387.89,72.71 L388.42,72.26 L388.95,71.83 L389.48,71.41 L390.01,71.00 L390.54,70.60 L391.07,70.20 L391.60,69.82 L392.13,69.45 L392.66,69.08 L393.19,68.72 L393.72,68.37 L394.25,68.02 L394.78,67.69 L395.31,67.35 L395.84,67.03 L396.37,66.71 L396.90,66.40 L397.43,66.10 L397.96,65.80 L398.49,65.50 L399.02,65.21 L399.55,64.93 L400.08,64.65 L400.61,64.38 L401.14,64.11 L401.67,63.85 L402.20,63.59 L402.73,63.34 L403.26,63.09 L403.79,62.84 L404.32,62.60 L404.85,62.37 L405.38,62.14 L405.91,61.91 L406.44,61.68 L406.97,61.46 L407.50,61.24 L408.03,61.03 L408.56,60.82 L409.09,60.61 L409.62,60.40 L410.15,60.20 L410.68,59.99 L411.21,59.79 L411.74,59.60 L412.27,59.40 L412.80,59.20 L413.33,59.01 L413.86,58.82 L414.39,58.62 L414.92,58.43 L415.45,58.24 L415.98,58.06 L416.51,57.87 L417.04,57.68 L417.57,57.50 L418.10,57.32 L418.63,57.14 L419.16,56.96 L419.69,56.78 L420.22,56.61 L420.75,56.43 L421.28,56.26 L421.81,56.09 L422.34,55.92 L422.87,55.76 L423.40,55.59 L423.93,55.43 L424.46,55.27 L424.99,55.11 L425.52,54.96 L426.05,54.80 L426.58,54.65 L427.11,54.51 L427.64,54.36 L428.17,54.21 L428.70,54.07 L429.23,53.93 L429.76,53.79 L430.29,53.65 L430.82,53.51 L431.35,53.38 L431.88,53.24 L432.41,53.11 L432.94,52.98 L433.47,52.85 L434.00,52.73 L434.53,52.60 L435.06,52.48 L435.59,52.35 L436.12,52.23 L436.65,52.12 L437.18,52.00 L437.71,51.88 L438.24,51.77 L438.77,51.66 L439.30,51.55 L439.83,51.44 L440.36,51.33 L440.89,51.22 L441.42,51.12 L441.95,51.01 L442.48,50.91 L443.01,50.80 L443.54,50.70 L444.07,50.60 L444.60,50.50 L445.13,50.40 L445.66,50.30 L446.19,50.20 L446.72,50.10 L447.25,50.00 L447.78,49.90 L448.31,49.81 L448.84,49.71 L449.37,49.62 L449.90,49.53 L450.43,49.44 L450.96,49.35 L451.49,49.26 L452.02,49.17 L452.55,49.08 L453.08,49.00 L453.61,48.91 L454.14,48.83 L454.67,48.75 L455.20,48.67 L455.73,48.59 L456.26,48.52 L456.79,48.44 L457.32,48.37 L457.85,48.30 L458.38,48.23 L458.91,48.16 L459.44,48.10 L459.97,48.03 L460.50,47.97 L461.03,47.90 L461.56,47.84 L462.09,47.78 L462.62,47.72 L463.15,47.66 L463.68,47.60 L464.21,47.54 L464.74,47.48 L465.27,47.42 L465.80,47.37 L466.33,47.31 L466.86,47.25 L467.39,47.20 L467.92,47.14 L468.45,47.09 L468.98,47.03 L469.51,46.98 L470.04,46.93 L470.57,46.87 L471.10,46.82 L471.63,46.77 L472.16,46.72 L472.69,46.67 L473.22,46.62 L473.75,46.57 L474.28,46.52 L474.81,46.47 L475.34,46.42 L475.87,46.37 L476.40,46.32 L476.93,46.27 L477.46,46.23 L477.99,46.18 L478.52,46.14 L479.05,46.09 L479.58,46.04 L480.11,46.00 L480.64,45.95 L481.17,45.91 L481.70,45.87 L482.23,45.82 L482.76,45.78 L483.29,45.74 L483.82,45.69 L484.35,45.65 L484.88,45.61 L485.41,45.57 L485.94,45.53 L486.47,45.49 L487.00,45.45 L487.53,45.41 L488.06,45.37 L488.59,45.33 L489.12,45.29 L489.65,45.25 L490.18,45.21 L490.71,45.17 L491.24,45.13 L491.77,45.09 L492.30,45.06 L492.83,45.02 L493.36,44.98 L493.89,44.95 L494.42,44.91 L494.95,44.87 L495.48,44.84 L496.01,44.80 L496.54,44.77 L497.07,44.73 L497.60,44.69 L498.13,44.66 L498.66,44.62 L499.19,44.59 L499.72,44.56 L500.25,44.52 L500.78,44.49 L501.31,44.45 L501.84,44.42 L502.37,44.39 L502.90,44.35 L503.43,44.32 L503.96,44.29 L504.49,44.25 L505.02,44.22 L505.55,44.19 L506.08,44.15 L506.61,44.12 L507.14,44.09 L507.67,44.06 L508.20,44.03 L508.73,44.00 L509.26,43.96 L509.79,43.93 L510.32,43.90 L510.85,43.87 L511.38,43.84 L511.91,43.81 L512.44,43.78 L512.97,43.75 L513.50,43.72 L514.03,43.69 L514.56,43.66 L515.09,43.63 L515.62,43.60 L516.15,43.58 L516.68,43.55 L517.21,43.52 L517.74,43.49 L518.27,43.46 L518.80,43.44 L519.33,43.41 L519.86,43.38 L520.39,43.36 L520.92,43.33 L521.45,43.30 L521.98,43.28 L522.51,43.25 L523.04,43.23 L523.57,43.20 L524.10,43.18 L524.63,43.15 L525.16,43.13 L525.69,43.10 L526.22,43.08 L526.75,43.06 L527.28,43.03 L527.81,43.01 L528.34,42.99 L528.87,42.96 L529.40,42.94 L529.93,42.92 L530.46,42.90 L530.99,42.88 L531.52,42.86 L532.05,42.84 L532.58,42.82 L533.11,42.80 L533.64,42.78 L534.17,42.76 L534.70,42.74" fill="none" stroke="#b4404a" stroke-width="0.8" stroke-linejoin="round" stroke-linecap="butt" />
<path d="M317.40,189.96 L317.93,189.90 L318.46,189.83 L318.99,189.75 L319.52,189.65 L320.05,189.54 L320.58,189.42 L321.11,189.29 L321.64,189.14 L322.17,188.98 L322.70,188.81 L323.23,188.62 L323.76,188.42 L324.29,188.19 L324.82,187.94 L325.35,187.67 L325.88,187.37 L326.41,187.03 L326.94,186.66 L327.47,186.24 L328.00,185.77 L328.53,185.23 L329.06,184.63 L329.59,183.97 L330.12,183.24 L330.65,182.45 L331.18,181.60 L331.71,180.71 L332.24,179.78 L332.77,178.81 L333.30,177.81 L333.83,176.77 L334.36,175.69 L334.89,174.58 L335.42,173.41 L335.95,172.20 L336.48,170.93 L337.01,169.61 L337.54,168.22 L338.07,166.78 L338.60,165.28 L339.13,163.72 L339.66,162.12 L340.19,160.48 L340.72,158.81 L341.25,157.12 L341.78,155.40 L342.31,153.67 L342.84,151.92 L343.37,150.17 L343.90,148.41 L344.43,146.67 L344.96,144.94 L345.49,143.23 L346.02,141.57 L346.55,139.94 L347.08,138.37 L347.61,136.84 L348.14,135.37 L348.67,133.94 L349.20,132.55 L349.73,131.21 L350.26,129.89 L350.79,128.61 L351.32,127.35 L351.85,126.11 L352.38,124.90 L352.91,123.70 L353.44,122.53 L353.97,121.37 L354.50,120.23 L355.03,119.11 L355.56,118.00 L356.09,116.91 L356.62,115.83 L357.15,114.76 L357.68,113.71 L358.21,112.67 L358.74,111.64 L359.27,110.62 L359.80,109.60 L360.33,108.60 L360.86,107.60 L361.39,106.61 L361.92,105.63 L362.45,104.64 L362.98,103.67 L363.51,102.70 L364.04,101.73 L364.57,100.77 L365.10,99.81 L365.63,98.86 L366.16,97.92 L366.69,96.98 L367.22,96.06 L367.75,95.14 L368.28,94.24 L368.81,93.34 L369.34,92.46 L369.87,91.59 L370.40,90.74 L370.93,89.91 L371.46,89.09 L371.99,88.28 L372.52,87.50 L373.05,86.73 L373.58,85.99 L374.11,85.26 L374.64,84.56 L375.17,83.87 L375.70,83.20 L376.23,82.55 L376.76,81.92 L377.29,81.29 L377.82,80.68 L378.35,80.08 L378.88,79.50 L379.41,78.92 L379.94,78.35 L380.47,77.80 L381.00,77.25 L381.53,76.71 L382.06,76.18 L382.59,75.66 L383.12,75.15 L383.65,74.65 L384.18,74.16 L384.71,73.68 L385.24,73.20 L385.77,72.73 L386.30,72.28 L386.83,71.83 L387.36,71.39 L387.89,70.95 L388.42,70.53 L388.95,70.11 L389.48,69.70 L390.01,69.31 L390.54,68.92 L391.07,68.54 L391.60,68.18 L392.13,67.82 L392.66,67.48 L393.19,67.14 L393.72,66.82 L394.25,66.50 L394.78,66.19 L395.31,65.88 L395.84,65.57 L396.37,65.27 L396.90,64.96 L397.43,64.66 L397.96,64.35 L398.49,64.03 L399.02,63.72 L399.55,63.39 L400.08,63.05 L400.61,62.71 L401.14,62.35 L401.67,61.98 L402.20,61.60 L402.73,61.20 L403.26,60.79 L403.79,60.37 L404.32,59.94 L404.85,59.50 L405.38,59.06 L405.91,58.61 L406.44,58.17 L406.97,57.73 L407.50,57.30 L408.03,56.88 L408.56,56.47 L409.09,56.08 L409.62,55.69 L410.15,55.32 L410.68,54.95 L411.21,54.60 L411.74,54.25 L412.27,53.91 L412.80,53.57 L413.33,53.23 L413.86,52.90 L414.39,52.58 L414.92,52.26 L415.45,51.94 L415.98,51.63 L416.51,51.32 L417.04,51.02 L417.57,50.72 L418.10,50.43 L418.63,50.14 L419.16,49.86 L419.69,49.58 L420.22,49.30 L420.75,49.04 L421.28,48.77 L421.81,48.51 L422.34,48.26 L422.87,48.01 L423.40,47.77 L423.93,47.54 L424.46,47.31 L424.99,47.08 L425.52,46.86 L426.05,46.65 L426.58,46.44 L427.11,46.23 L427.64,46.03 L428.17,45.83 L428.70,45.64 L429.23,45.45 L429.76,45.26 L430.29,45.08 L430.82,44.90 L431.35,44.72 L431.88,44.54 L432.41,44.37 L432.94,44.19 L433.47,44.02 L434.00,43.85 L434.53,43.68 L435.06,43.52 L435.59,43.35 L436.12,43.19 L436.65,43.03 L437.18,42.87 L437.71,42.72 L438.24,42.56 L438.77,42.41 L439.30,42.26 L439.83,42.10 L440.36,41.95 L440.89,41.80 L441.42,41.65 L441.95,41.50 L442.48,41.34 L443.01,41.19 L443.54,41.03 L444.07,40.88 L444.60,40.72 L445.13,40.57 L445.66,40.41 L446.19,40.26 L446.72,40.10 L447.25,39.94 L447.78,39.79 L448.31,39.63 L448.84,39.48 L449.37,39.32 L449.90,39.16 L450.43,39.01 L450.96,38.85 L451.49,38.70 L452.02,38.55 L452.55,38.39 L453.08,38.24 L453.61,38.09 L454.14,37.93 L454.67,37.78 L455.20,37.63 L455.73,37.48 L456.26,37.34 L456.79,37.19 L457.32,37.04 L457.85,36.90 L458.38,36.75 L458.91,36.61 L459.44,36.47 L459.97,36.33 L460.50,36.19 L461.03,36.05 L461.56,35.91 L462.09,35.77 L462.62,35.64 L463.15,35.50 L463.68,35.36 L464.21,35.23 L464.74,35.10 L465.27,34.97 L465.80,34.84 L466.33,34.71 L466.86,34.58 L467.39,34.45 L467.92,34.33 L468.45,34.21 L468.98,34.09 L469.51,33.97 L470.04,33.86 L470.57,33.74 L471.10,33.63 L471.63,33.52 L472.16,33.41 L472.69,33.30 L473.22,33.19 L473.75,33.08 L474.28,32.97 L474.81,32.86 L475.34,32.76 L475.87,32.65 L476.40,32.54 L476.93,32.44 L477.46,32.33 L477.99,32.23 L478.52,32.13 L479.05,32.03 L479.58,31.92 L480.11,31.82 L480.64,31.72 L481.17,31.62 L481.70,31.52 L482.23,31.42 L482.76,31.33 L483.29,31.23 L483.82,31.13 L484.35,31.04 L484.88,30.94 L485.41,30.85 L485.94,30.75 L486.47,30.66 L487.00,30.56 L487.53,30.47 L488.06,30.38 L488.59,30.29 L489.12,30.20 L489.65,30.11 L490.18,30.02 L490.71,29.93 L491.24,29.84 L491.77,29.75 L492.30,29.66 L492.83,29.58 L493.36,29.49 L493.89,29.40 L494.42,29.32 L494.95,29.23 L495.48,29.15 L496.01,29.06 L496.54,28.98 L497.07,28.90 L497.60,28.82 L498.13,28.73 L498.66,28.65 L499.19,28.57 L499.72,28.49 L500.25,28.41 L500.78,28.33 L501.31,28.26 L501.84,28.18 L502.37,28.10 L502.90,28.03 L503.43,27.95 L503.96,27.88 L504.49,27.80 L505.02,27.73 L505.55,27.66 L506.08,27.58 L506.61,27.51 L507.14,27.44 L507.67,27.37 L508.20,27.30 L508.73,27.23 L509.26,27.16 L509.79,27.10 L510.32,27.03 L510.85,26.96 L511.38,26.89 L511.91,26.82 L512.44,26.76 L512.97,26.69 L513.50,26.63 L514.03,26.56 L514.56,26.49 L515.09,26.43 L515.62,26.36 L516.15,26.30 L516.68,26.23 L517.21,26.17 L517.74,26.10 L518.27,26.04 L518.80,25.98 L519.33,25.91 L519.86,25.85 L520.39,25.78 L520.92,25.72 L521.45,25.66 L521.98,25.60 L522.51,25.53 L523.04,25.47 L523.57,25.41 L524.10,25.35 L524.63,25.29 L525.16,25.22 L525.69,25.16 L526.22,25.10 L526.75,25.04 L527.28,24.98 L527.81,24.92 L528.34,24.86 L528.87,24.81 L529.40,24.75 L529.93,24.69 L530.46,24.63 L530.99,24.57 L531.52,24.52 L532.05,24.46 L532.58,24.40 L533.11,24.34 L533.64,24.29 L534.17,24.23 L534.70,24.18" fill="none" stroke="#ff8a2a" stroke-width="0.8" stroke-linejoin="round" stroke-linecap="butt" />
<path d="M401.14,57.40 L401.67,56.99 L402.20,56.59 L402.73,56.19 L403.26,55.79 L403.79,55.39 L404.32,55.00 L404.85,54.60 L405.38,54.21 L405.91,53.82 L406.44,53.44 L406.97,53.06 L407.50,52.68 L408.03,52.31 L408.56,51.95 L409.09,51.60 L409.62,51.25 L410.15,50.90 L410.68,50.56 L411.21,50.21 L411.74,49.87 L412.27,49.54 L412.80,49.21 L413.33,48.88 L413.86,48.56 L414.39,48.25 L414.92,47.96 L415.45,47.67 L415.98,47.39 L416.51,47.13 L417.04,46.88 L417.57,46.64 L418.10,46.41 L418.63,46.19 L419.16,45.97 L419.69,45.75 L420.22,45.55 L420.75,45.35 L421.28,45.16 L421.81,44.97 L422.34,44.79 L422.87,44.62 L423.40,44.46 L423.93,44.31 L424.46,44.16 L424.99,44.02 L425.52,43.87 L426.05,43.74 L426.58,43.60 L427.11,43.47 L427.64,43.34 L428.17,43.21 L428.70,43.09 L429.23,42.97 L429.76,42.86 L430.29,42.74 L430.82,42.64 L431.35,42.53 L431.88,42.43 L432.41,42.34 L432.94,42.25 L433.47,42.17 L434.00,42.09 L434.53,42.01 L435.06,41.94 L435.59,41.88 L436.12,41.81 L436.65,41.75 L437.18,41.69 L437.71,41.63 L438.24,41.57 L438.77,41.51 L439.30,41.45 L439.83,41.40 L440.36,41.34 L440.89,41.29 L441.42,41.24 L441.95,41.19 L442.48,41.14 L443.01,41.09 L443.54,41.05 L444.07,41.00 L444.60,40.96 L445.13,40.92 L445.66,40.88 L446.19,40.85 L446.72,40.81 L447.25,40.78 L447.78,40.75 L448.31,40.72 L448.84,40.69 L449.37,40.66 L449.90,40.64 L450.43,40.62 L450.96,40.60 L451.49,40.58 L452.02,40.56 L452.55,40.55 L453.08,40.53 L453.61,40.51 L454.14,40.50 L454.67,40.48 L455.20,40.46 L455.73,40.45 L456.26,40.43 L456.79,40.42 L457.32,40.40 L457.85,40.39 L458.38,40.38 L458.91,40.36 L459.44,40.35 L459.97,40.33 L460.50,40.32 L461.03,40.31 L461.56,40.30 L462.09,40.28 L462.62,40.27 L463.15,40.26 L463.68,40.25 L464.21,40.24 L464.74,40.23 L465.27,40.22 L465.80,40.21 L466.33,40.20 L466.86,40.19 L467.39,40.18 L467.92,40.17 L468.45,40.17 L468.98,40.16 L469.51,40.15 L470.04,40.14 L470.57,40.14 L471.10,40.13 L471.63,40.13 L472.16,40.12 L472.69,40.12 L473.22,40.11 L473.75,40.11 L474.28,40.10 L474.81,40.10 L475.34,40.10 L475.87,40.10 L476.40,40.09 L476.93,40.09 L477.46,40.09 L477.99,40.09 L478.52,40.09 L479.05,40.09 L479.58,40.08 L480.11,40.08 L480.64,40.08 L481.17,40.08 L481.70,40.08 L482.23,40.08 L482.76,40.07 L483.29,40.07 L483.82,40.07 L484.35,40.07 L484.88,40.07 L485.41,40.07 L485.94,40.07 L486.47,40.06 L487.00,40.06 L487.53,40.06 L488.06,40.06 L488.59,40.06 L489.12,40.06 L489.65,40.06 L490.18,40.06 L490.71,40.05 L491.24,40.05 L491.77,40.05 L492.30,40.05 L492.83,40.05 L493.36,40.05 L493.89,40.05 L494.42,40.05 L494.95,40.04 L495.48,40.04 L496.01,40.04 L496.54,40.04 L497.07,40.04 L497.60,40.04 L498.13,40.04 L498.66,40.04 L499.19,40.04 L499.72,40.03 L500.25,40.03 L500.78,40.03 L501.31,40.03 L501.84,40.03 L502.37,40.03 L502.90,40.03 L503.43,40.03 L503.96,40.03 L504.49,40.03 L505.02,40.03 L505.55,40.03 L506.08,40.02 L506.61,40.02 L507.14,40.02 L507.67,40.02 L508.20,40.02 L508.73,40.02 L509.26,40.02 L509.79,40.02 L510.32,40.02 L510.85,40.02 L511.38,40.02 L511.91,40.02 L512.44,40.02 L512.97,40.02 L513.50,40.01 L514.03,40.01 L514.56,40.01 L515.09,40.01 L515.62,40.01 L516.15,40.01 L516.68,40.01 L517.21,40.01 L517.74,40.01 L518.27,40.01 L518.80,40.01 L519.33,40.01 L519.86,40.01 L520.39,40.01 L520.92,40.01 L521.45,40.01 L521.98,40.01 L522.51,40.01 L523.04,40.01 L523.57,40.01 L524.10,40.01 L524.63,40.01 L525.16,40.01 L525.69,40.01 L526.22,40.01 L526.75,40.01 L527.28,40.01 L527.81,40.00 L528.34,40.00 L528.87,40.00 L529.40,40.00 L529.93,40.00 L530.46,40.00 L530.99,40.00 L531.52,40.00 L532.05,40.00 L532.58,40.00 L533.11,40.00 L533.64,40.00 L534.17,40.00 L534.70,40.00" fill="none" stroke="#cf44cf" stroke-width="1.0" stroke-linejoin="round" stroke-linecap="butt" />
<rect x="306.5" y="15.9" width="239.00" height="182.50" fill="none" stroke="#6a6a6a" stroke-width="0.55"/>
<line x1="317.40" y1="198.4" x2="317.40" y2="200.10" stroke="#555" stroke-width="0.45"/>
<text transform="translate(317.40,205.30) scale(1,1.0)" font-size="5.0" text-anchor="middle" class="tk" fill="#333">0</text>
<line x1="370.40" y1="198.4" x2="370.40" y2="200.10" stroke="#555" stroke-width="0.45"/>
<text transform="translate(370.40,205.30) scale(1,1.0)" font-size="5.0" text-anchor="middle" class="tk" fill="#333">100</text>
<line x1="423.40" y1="198.4" x2="423.40" y2="200.10" stroke="#555" stroke-width="0.45"/>
<text transform="translate(423.40,205.30) scale(1,1.0)" font-size="5.0" text-anchor="middle" class="tk" fill="#333">200</text>
<line x1="476.40" y1="198.4" x2="476.40" y2="200.10" stroke="#555" stroke-width="0.45"/>
<text transform="translate(476.40,205.30) scale(1,1.0)" font-size="5.0" text-anchor="middle" class="tk" fill="#333">300</text>
<line x1="529.40" y1="198.4" x2="529.40" y2="200.10" stroke="#555" stroke-width="0.45"/>
<text transform="translate(529.40,205.30) scale(1,1.0)" font-size="5.0" text-anchor="middle" class="tk" fill="#333">400</text>
<line x1="304.80" y1="190.00" x2="306.5" y2="190.00" stroke="#555" stroke-width="0.45"/>
<text transform="translate(304.10,192.35) scale(1,1.0)" font-size="5.0" text-anchor="end" class="tk" fill="#333">0.0</text>
<line x1="304.80" y1="167.50" x2="306.5" y2="167.50" stroke="#555" stroke-width="0.45"/>
<text transform="translate(304.10,169.85) scale(1,1.0)" font-size="5.0" text-anchor="end" class="tk" fill="#333">0.2</text>
<line x1="304.80" y1="145.00" x2="306.5" y2="145.00" stroke="#555" stroke-width="0.45"/>
<text transform="translate(304.10,147.35) scale(1,1.0)" font-size="5.0" text-anchor="end" class="tk" fill="#333">0.4</text>
<line x1="304.80" y1="122.50" x2="306.5" y2="122.50" stroke="#555" stroke-width="0.45"/>
<text transform="translate(304.10,124.85) scale(1,1.0)" font-size="5.0" text-anchor="end" class="tk" fill="#333">0.6</text>
<line x1="304.80" y1="100.00" x2="306.5" y2="100.00" stroke="#555" stroke-width="0.45"/>
<text transform="translate(304.10,102.35) scale(1,1.0)" font-size="5.0" text-anchor="end" class="tk" fill="#333">0.8</text>
<line x1="304.80" y1="77.50" x2="306.5" y2="77.50" stroke="#555" stroke-width="0.45"/>
<text transform="translate(304.10,79.85) scale(1,1.0)" font-size="5.0" text-anchor="end" class="tk" fill="#333">1.0</text>
<line x1="304.80" y1="55.00" x2="306.5" y2="55.00" stroke="#555" stroke-width="0.45"/>
<text transform="translate(304.10,57.35) scale(1,1.0)" font-size="5.0" text-anchor="end" class="tk" fill="#333">1.2</text>
<line x1="304.80" y1="32.50" x2="306.5" y2="32.50" stroke="#555" stroke-width="0.45"/>
<text transform="translate(304.10,34.85) scale(1,1.0)" font-size="5.0" text-anchor="end" class="tk" fill="#333">1.4</text>
<text x="306.50" y="14.60" font-size="3.2" class="t" fill="#444">1e7</text>
<text x="425.00" y="13.80" font-size="6.68" text-anchor="middle" class="tt" fill="#2a2a2a">Prediction of Omicron infection in Italy</text>
<text x="426.00" y="212.00" font-size="6.6" text-anchor="middle" class="t" fill="#2a2a2a">Days</text>
<text transform="translate(292.60,107.15) rotate(-90)" x="0" y="0" font-size="6.63" text-anchor="middle" class="t" fill="#2a2a2a">Cumulative Omicron Infection</text>
<rect x="309.3" y="17.9" width="62.5" height="45.8" rx="1.2" fill="#fff" fill-opacity="0.85" stroke="#e4e4e4" stroke-width="0.5"/>
<circle cx="317.60" cy="23.50" r="1.15" fill="#0000ff"/>
<text x="328.5" y="26.05" font-size="5.85" class="t" fill="#2a2a2a">Omicron Data</text>
<line x1="311.4" y1="32.10" x2="323.8" y2="32.10" stroke="#5b9bd0" stroke-width="0.85" />
<text x="328.5" y="34.65" font-size="5.85" class="t" fill="#2a2a2a">Constant</text>
<line x1="311.4" y1="40.70" x2="323.8" y2="40.70" stroke="#b4404a" stroke-width="0.8" />
<text x="328.5" y="43.25" font-size="5.85" class="t" fill="#2a2a2a">Rational</text>
<line x1="311.4" y1="49.30" x2="323.8" y2="49.30" stroke="#ff8a2a" stroke-width="0.8" />
<text x="328.5" y="51.85" font-size="5.85" class="t" fill="#2a2a2a">Birational</text>
<line x1="311.4" y1="57.90" x2="323.8" y2="57.90" stroke="#cf44cf" stroke-width="1.0" />
<text x="328.5" y="60.45" font-size="5.85" class="t" fill="#2a2a2a">Time-series</text>
</g>
<g id="portugal">
<path d="M176.46,425.40 L176.99,425.39 L177.52,425.38 L178.05,425.36 L178.58,425.33 L179.11,425.29 L179.64,425.25 L180.17,425.20 L180.70,425.15 L181.23,425.09 L181.76,425.03 L182.29,424.96 L182.82,424.89 L183.35,424.82 L183.88,424.74 L184.41,424.66 L184.94,424.58 L185.46,424.48 L185.99,424.37 L186.52,424.25 L187.05,424.12 L187.58,423.97 L188.11,423.81 L188.64,423.63 L189.17,423.44 L189.70,423.23 L190.23,423.01 L190.76,422.78 L191.29,422.52 L191.82,422.26 L192.35,421.96 L192.88,421.61 L193.41,421.20 L193.94,420.71 L194.47,420.14 L195.00,419.52 L195.53,418.83 L196.06,418.10 L196.59,417.31 L197.12,416.48 L197.65,415.60 L198.18,414.63 L198.71,413.54 L199.24,412.28 L199.77,410.82 L200.30,409.08 L200.83,406.95 L201.36,404.38 L201.89,401.46 L202.42,398.29 L202.94,394.91 L203.47,391.27 L204.00,387.40 L204.53,383.38 L205.06,379.25 L205.59,375.00 L206.12,370.63 L206.65,366.28 L207.18,362.10 L207.71,358.15 L208.24,354.40 L208.77,350.82 L209.30,347.42 L209.83,344.19 L210.36,341.09 L210.89,338.02 L211.42,334.89 L211.95,331.70 L212.48,328.65 L213.01,325.87 L213.54,323.38 L214.07,321.08 L214.60,318.98 L215.13,317.05 L215.66,315.25 L216.19,313.53 L216.72,311.88 L217.25,310.31 L217.78,308.87 L218.31,307.59 L218.84,306.51 L219.37,305.65 L219.90,304.98 L220.43,304.41 L220.95,303.90 L221.48,303.45 L222.01,303.05 L222.54,302.70 L223.07,302.40 L223.60,302.16 L224.13,301.95 L224.66,301.77 L225.19,301.61 L225.72,301.45 L226.25,301.31 L226.78,301.17 L227.31,301.04 L227.84,300.92 L228.37,300.82 L228.90,300.72 L229.43,300.64 L229.96,300.58 L230.49,300.53 L231.02,300.50 L231.55,300.48 L232.08,300.47 L232.61,300.47 L233.14,300.47 L233.67,300.47 L234.20,300.47 L234.73,300.47 L235.26,300.47 L235.79,300.47 L236.32,300.47 L236.85,300.47 L237.38,300.47 L237.91,300.47 L238.43,300.47 L238.96,300.47 L239.49,300.47 L240.02,300.47 L240.55,300.47 L241.08,300.47 L241.61,300.47 L242.14,300.47 L242.67,300.47 L243.20,300.47 L243.73,300.47 L244.26,300.47 L244.79,300.47 L245.32,300.47 L245.85,300.47 L246.38,300.47 L246.91,300.47 L247.44,300.47 L247.97,300.47 L248.50,300.47 L249.03,300.47 L249.56,300.47 L250.09,300.47 L250.62,300.47 L251.15,300.47 L251.68,300.47 L252.21,300.47 L252.74,300.47 L253.27,300.47 L253.80,300.47 L254.33,300.47 L254.86,300.47 L255.39,300.47 L255.92,300.47 L256.44,300.47 L256.97,300.47 L257.50,300.47 L258.03,300.47 L258.56,300.47 L259.09,300.47 L259.62,300.47 L260.15,300.47 L260.68,300.47 L261.21,300.47 L261.74,300.47 L262.27,300.47 L262.80,300.47 L263.33,300.47 L263.86,300.47 L264.39,300.47 L264.92,300.47 L265.45,300.47 L265.98,300.47 L266.51,300.47 L267.04,300.47 L267.57,300.47 L268.10,300.47 L268.63,300.47 L269.16,300.47 L269.69,300.47 L270.22,300.47 L270.75,300.47 L271.28,300.47 L271.81,300.47 L272.34,300.47 L272.87,300.47 L273.40,300.47 L273.92,300.47 L274.45,300.47 L274.98,300.47 L275.51,300.47 L276.04,300.47 L276.57,300.47 L277.10,300.47 L277.63,300.47 L278.16,300.47 L278.69,300.47 L279.22,300.47 L279.75,300.47 L280.28,300.47 L280.81,300.47 L281.34,300.47 L281.87,300.47 L282.40,300.47 L282.93,300.47 L283.46,300.47 L283.99,300.47 L284.52,300.47 L285.05,300.47 L285.58,300.47 L286.11,300.47 L286.64,300.47 L287.17,300.47 L287.70,300.47 L288.23,300.47 L288.76,300.47 L289.29,300.47 L289.82,300.47 L290.35,300.47 L290.88,300.47 L291.40,300.47 L291.93,300.47 L292.46,300.47 L292.99,300.47 L293.52,300.47 L294.05,300.47 L294.58,300.47 L295.11,300.47 L295.64,300.47 L296.17,300.47 L296.70,300.47 L297.23,300.47 L297.76,300.47 L298.29,300.47 L298.82,300.47 L299.35,300.47 L299.88,300.47 L300.41,300.47 L300.94,300.47 L301.47,300.47 L302.00,300.47 L302.53,300.47 L303.06,300.47 L303.59,300.47 L304.12,300.47 L304.65,300.47 L305.18,300.47 L305.71,300.47 L306.24,300.47 L306.77,300.47 L307.30,300.47 L307.83,300.47 L308.36,300.47 L308.88,300.47 L309.41,300.47 L309.94,300.47 L310.47,300.47 L311.00,300.47 L311.53,300.47 L312.06,300.47 L312.59,300.47 L313.12,300.47 L313.65,300.47 L314.18,300.47 L314.71,300.47 L315.24,300.47 L315.77,300.47 L316.30,300.47 L316.83,300.47 L317.36,300.47 L317.89,300.47 L318.42,300.47 L318.95,300.47 L319.48,300.47 L320.01,300.47 L320.54,300.47 L321.07,300.47 L321.60,300.47 L322.13,300.47 L322.66,300.47 L323.19,300.47 L323.72,300.47 L324.25,300.47 L324.78,300.47 L325.31,300.47 L325.84,300.47 L326.37,300.47 L326.89,300.47 L327.42,300.47 L327.95,300.47 L328.48,300.47 L329.01,300.47 L329.54,300.47 L330.07,300.47 L330.60,300.47 L331.13,300.47 L331.66,300.47 L332.19,300.47 L332.72,300.47 L333.25,300.47 L333.78,300.47 L334.31,300.47 L334.84,300.47 L335.37,300.47 L335.90,300.47 L336.43,300.47 L336.96,300.47 L337.49,300.47 L338.02,300.47 L338.55,300.47 L339.08,300.47 L339.61,300.47 L340.14,300.47 L340.67,300.47 L341.20,300.47 L341.73,300.47 L342.26,300.47 L342.79,300.47 L343.32,300.47 L343.85,300.47 L344.37,300.47 L344.90,300.47 L345.43,300.47 L345.96,300.47 L346.49,300.47 L347.02,300.47 L347.55,300.47 L348.08,300.47 L348.61,300.47 L349.14,300.47 L349.67,300.47 L350.20,300.47 L350.73,300.47 L351.26,300.47 L351.79,300.47 L352.32,300.47 L352.85,300.47 L353.38,300.47 L353.91,300.47 L354.44,300.47 L354.97,300.47 L355.50,300.47 L356.03,300.47 L356.56,300.47 L357.09,300.47 L357.62,300.47 L358.15,300.47 L358.68,300.47 L359.21,300.47 L359.74,300.47 L360.27,300.47 L360.80,300.47 L361.33,300.47 L361.86,300.47 L362.38,300.47 L362.91,300.47 L363.44,300.47 L363.97,300.47 L364.50,300.47 L365.03,300.47 L365.56,300.47 L366.09,300.47 L366.62,300.47 L367.15,300.47 L367.68,300.47 L368.21,300.47 L368.74,300.47 L369.27,300.47 L369.80,300.47 L370.33,300.47 L370.86,300.47 L371.39,300.47 L371.92,300.47 L372.45,300.47 L372.98,300.47 L373.51,300.47 L374.04,300.47 L374.57,300.47 L375.10,300.47 L375.63,300.47 L376.16,300.47 L376.69,300.47 L377.22,300.47 L377.75,300.47 L378.28,300.47 L378.81,300.47 L379.34,300.47 L379.86,300.47 L380.39,300.47 L380.92,300.47 L381.45,300.47 L381.98,300.47 L382.51,300.47 L383.04,300.47 L383.57,300.47 L384.10,300.47 L384.63,300.47 L385.16,300.47 L385.69,300.47 L386.22,300.47 L386.75,300.47 L387.28,300.47 L387.81,300.47 L388.34,300.47 L388.87,300.47 L389.40,300.47 L389.93,300.47 L390.46,300.47 L390.99,300.47 L391.52,300.47 L392.05,300.47 L392.58,300.47 L393.11,300.47 L393.64,300.47" fill="none" stroke="#5d9fd3" stroke-width="0.8" stroke-linejoin="round" stroke-linecap="butt" />
<path d="M176.46,424.37 L176.99,424.30 L177.52,424.20 L178.05,424.10 L178.58,423.97 L179.11,423.83 L179.64,423.67 L180.17,423.49 L180.70,423.30 L181.23,423.10 L181.76,422.88 L182.29,422.64 L182.82,422.38 L183.35,422.11 L183.88,421.81 L184.41,421.48 L184.94,421.12 L185.46,420.72 L185.99,420.28 L186.52,419.80 L187.05,419.27 L187.58,418.68 L188.11,418.02 L188.64,417.30 L189.17,416.52 L189.70,415.67 L190.23,414.78 L190.76,413.83 L191.29,412.83 L191.82,411.79 L192.35,410.71 L192.88,409.59 L193.41,408.43 L193.94,407.22 L194.47,405.97 L195.00,404.67 L195.53,403.33 L196.06,401.94 L196.59,400.49 L197.12,399.00 L197.65,397.44 L198.18,395.83 L198.71,394.15 L199.24,392.42 L199.77,390.62 L200.30,388.77 L200.83,386.87 L201.36,384.92 L201.89,382.94 L202.42,380.93 L202.94,378.91 L203.47,376.88 L204.00,374.85 L204.53,372.82 L205.06,370.80 L205.59,368.76 L206.12,366.71 L206.65,364.62 L207.18,362.48 L207.71,360.29 L208.24,358.06 L208.77,355.78 L209.30,353.48 L209.83,351.18 L210.36,348.87 L210.89,346.60 L211.42,344.35 L211.95,342.16 L212.48,340.04 L213.01,338.00 L213.54,336.06 L214.07,334.22 L214.60,332.50 L215.13,330.90 L215.66,329.42 L216.19,328.07 L216.72,326.82 L217.25,325.67 L217.78,324.60 L218.31,323.59 L218.84,322.62 L219.37,321.68 L219.90,320.75 L220.43,319.83 L220.95,318.90 L221.48,317.97 L222.01,317.03 L222.54,316.08 L223.07,315.13 L223.60,314.19 L224.13,313.27 L224.66,312.37 L225.19,311.50 L225.72,310.66 L226.25,309.84 L226.78,309.04 L227.31,308.27 L227.84,307.52 L228.37,306.80 L228.90,306.09 L229.43,305.41 L229.96,304.75 L230.49,304.10 L231.02,303.48 L231.55,302.87 L232.08,302.29 L232.61,301.72 L233.14,301.16 L233.67,300.62 L234.20,300.10 L234.73,299.59 L235.26,299.11 L235.79,298.64 L236.32,298.20 L236.85,297.78 L237.38,297.37 L237.91,296.99 L238.43,296.62 L238.96,296.27 L239.49,295.93 L240.02,295.60 L240.55,295.29 L241.08,294.98 L241.61,294.69 L242.14,294.40 L242.67,294.12 L243.20,293.85 L243.73,293.59 L244.26,293.33 L244.79,293.08 L245.32,292.84 L245.85,292.60 L246.38,292.37 L246.91,292.14 L247.44,291.92 L247.97,291.70 L248.50,291.49 L249.03,291.28 L249.56,291.07 L250.09,290.86 L250.62,290.66 L251.15,290.46 L251.68,290.26 L252.21,290.06 L252.74,289.87 L253.27,289.68 L253.80,289.50 L254.33,289.31 L254.86,289.13 L255.39,288.96 L255.92,288.79 L256.44,288.62 L256.97,288.45 L257.50,288.29 L258.03,288.13 L258.56,287.98 L259.09,287.83 L259.62,287.69 L260.15,287.55 L260.68,287.41 L261.21,287.28 L261.74,287.15 L262.27,287.03 L262.80,286.91 L263.33,286.80 L263.86,286.69 L264.39,286.58 L264.92,286.47 L265.45,286.37 L265.98,286.26 L266.51,286.16 L267.04,286.06 L267.57,285.96 L268.10,285.87 L268.63,285.78 L269.16,285.69 L269.69,285.60 L270.22,285.52 L270.75,285.44 L271.28,285.36 L271.81,285.29 L272.34,285.22 L272.87,285.16 L273.40,285.10 L273.92,285.04 L274.45,284.99 L274.98,284.94 L275.51,284.90 L276.04,284.86 L276.57,284.82 L277.10,284.79 L277.63,284.76 L278.16,284.73 L278.69,284.70 L279.22,284.67 L279.75,284.65 L280.28,284.62 L280.81,284.60 L281.34,284.58 L281.87,284.55 L282.40,284.53 L282.93,284.51 L283.46,284.49 L283.99,284.47 L284.52,284.45 L285.05,284.44 L285.58,284.42 L286.11,284.40 L286.64,284.38 L287.17,284.37 L287.70,284.35 L288.23,284.34 L288.76,284.32 L289.29,284.30 L289.82,284.29 L290.35,284.27 L290.88,284.26 L291.40,284.24 L291.93,284.22 L292.46,284.21 L292.99,284.19 L293.52,284.17 L294.05,284.15 L294.58,284.14 L295.11,284.12 L295.64,284.10 L296.17,284.08 L296.70,284.06 L297.23,284.04 L297.76,284.02 L298.29,284.00 L298.82,283.98 L299.35,283.96 L299.88,283.94 L300.41,283.92 L300.94,283.90 L301.47,283.88 L302.00,283.86 L302.53,283.84 L303.06,283.83 L303.59,283.81 L304.12,283.79 L304.65,283.77 L305.18,283.76 L305.71,283.74 L306.24,283.72 L306.77,283.71 L307.30,283.70 L307.83,283.68 L308.36,283.67 L308.88,283.66 L309.41,283.65 L309.94,283.64 L310.47,283.63 L311.00,283.62 L311.53,283.61 L312.06,283.60 L312.59,283.59 L313.12,283.59 L313.65,283.58 L314.18,283.57 L314.71,283.56 L315.24,283.55 L315.77,283.55 L316.30,283.54 L316.83,283.53 L317.36,283.52 L317.89,283.51 L318.42,283.51 L318.95,283.50 L319.48,283.49 L320.01,283.48 L320.54,283.48 L321.07,283.47 L321.60,283.46 L322.13,283.45 L322.66,283.44 L323.19,283.44 L323.72,283.43 L324.25,283.42 L324.78,283.42 L325.31,283.41 L325.84,283.40 L326.37,283.39 L326.89,283.39 L327.42,283.38 L327.95,283.37 L328.48,283.37 L329.01,283.36 L329.54,283.35 L330.07,283.34 L330.60,283.34 L331.13,283.33 L331.66,283.32 L332.19,283.32 L332.72,283.31 L333.25,283.30 L333.78,283.30 L334.31,283.29 L334.84,283.28 L335.37,283.28 L335.90,283.27 L336.43,283.27 L336.96,283.26 L337.49,283.25 L338.02,283.25 L338.55,283.24 L339.08,283.23 L339.61,283.23 L340.14,283.22 L340.67,283.22 L341.20,283.21 L341.73,283.20 L342.26,283.20 L342.79,283.19 L343.32,283.19 L343.85,283.18 L344.37,283.18 L344.90,283.17 L345.43,283.17 L345.96,283.16 L346.49,283.15 L347.02,283.15 L347.55,283.14 L348.08,283.14 L348.61,283.13 L349.14,283.13 L349.67,283.12 L350.20,283.12 L350.73,283.11 L351.26,283.11 L351.79,283.10 L352.32,283.10 L352.85,283.09 L353.38,283.09 L353.91,283.08 L354.44,283.08 L354.97,283.08 L355.50,283.07 L356.03,283.07 L356.56,283.06 L357.09,283.06 L357.62,283.05 L358.15,283.05 L358.68,283.05 L359.21,283.04 L359.74,283.04 L360.27,283.03 L360.80,283.03 L361.33,283.03 L361.86,283.02 L362.38,283.02 L362.91,283.01 L363.44,283.01 L363.97,283.01 L364.50,283.00 L365.03,283.00 L365.56,283.00 L366.09,282.99 L366.62,282.99 L367.15,282.99 L367.68,282.98 L368.21,282.98 L368.74,282.98 L369.27,282.97 L369.80,282.97 L370.33,282.97 L370.86,282.97 L371.39,282.96 L371.92,282.96 L372.45,282.96 L372.98,282.95 L373.51,282.95 L374.04,282.95 L374.57,282.95 L375.10,282.95 L375.63,282.94 L376.16,282.94 L376.69,282.94 L377.22,282.94 L377.75,282.93 L378.28,282.93 L378.81,282.93 L379.34,282.93 L379.86,282.93 L380.39,282.93 L380.92,282.92 L381.45,282.92 L381.98,282.92 L382.51,282.92 L383.04,282.92 L383.57,282.92 L384.10,282.92 L384.63,282.91 L385.16,282.91 L385.69,282.91 L386.22,282.91 L386.75,282.91 L387.28,282.91 L387.81,282.91 L388.34,282.91 L388.87,282.91 L389.40,282.91 L389.93,282.91 L390.46,282.91 L390.99,282.91 L391.52,282.90 L392.05,282.90 L392.58,282.90 L393.11,282.90 L393.64,282.90" fill="none" stroke="#e09a90" stroke-width="1.2" stroke-linejoin="round" stroke-linecap="butt" />
<path d="M176.46,424.37 L176.99,424.30 L177.52,424.20 L178.05,424.10 L178.58,423.97 L179.11,423.83 L179.64,423.67 L180.17,423.49 L180.70,423.30 L181.23,423.10 L181.76,422.88 L182.29,422.64 L182.82,422.38 L183.35,422.11 L183.88,421.81 L184.41,421.48 L184.94,421.12 L185.46,420.72 L185.99,420.28 L186.52,419.80 L187.05,419.27 L187.58,418.68 L188.11,418.02 L188.64,417.30 L189.17,416.52 L189.70,415.67 L190.23,414.78 L190.76,413.83 L191.29,412.83 L191.82,411.79 L192.35,410.71 L192.88,409.59 L193.41,408.43 L193.94,407.22 L194.47,405.97 L195.00,404.67 L195.53,403.33 L196.06,401.94 L196.59,400.49 L197.12,399.00 L197.65,397.44 L198.18,395.83 L198.71,394.15 L199.24,392.42 L199.77,390.62 L200.30,388.77 L200.83,386.87 L201.36,384.92 L201.89,382.94 L202.42,380.93 L202.94,378.91 L203.47,376.88 L204.00,374.85 L204.53,372.82 L205.06,370.80 L205.59,368.76 L206.12,366.71 L206.65,364.62 L207.18,362.48 L207.71,360.29 L208.24,358.06 L208.77,355.78 L209.30,353.48 L209.83,351.18 L210.36,348.87 L210.89,346.60 L211.42,344.35 L211.95,342.16 L212.48,340.04 L213.01,338.00 L213.54,336.06 L214.07,334.22 L214.60,332.50 L215.13,330.90 L215.66,329.42 L216.19,328.07 L216.72,326.82 L217.25,325.67 L217.78,324.60 L218.31,323.59 L218.84,322.62 L219.37,321.68 L219.90,320.75 L220.43,319.83 L220.95,318.90 L221.48,317.97 L222.01,317.03 L222.54,316.08 L223.07,315.13 L223.60,314.19 L224.13,313.27 L224.66,312.37 L225.19,311.50 L225.72,310.66 L226.25,309.84 L226.78,309.04 L227.31,308.27 L227.84,307.52 L228.37,306.80 L228.90,306.09 L229.43,305.41 L229.96,304.75 L230.49,304.10 L231.02,303.48 L231.55,302.88 L232.08,302.29 L232.61,301.72 L233.14,301.17 L233.67,300.63 L234.20,300.11 L234.73,299.61 L235.26,299.12 L235.79,298.66 L236.32,298.21 L236.85,297.78 L237.38,297.37 L237.91,296.98 L238.43,296.60 L238.96,296.24 L239.49,295.89 L240.02,295.55 L240.55,295.22 L241.08,294.90 L241.61,294.59 L242.14,294.29 L242.67,293.99 L243.20,293.71 L243.73,293.43 L244.26,293.16 L244.79,292.90 L245.32,292.64 L245.85,292.39 L246.38,292.15 L246.91,291.92 L247.44,291.69 L247.97,291.46 L248.50,291.24 L249.03,291.03 L249.56,290.82 L250.09,290.61 L250.62,290.40 L251.15,290.20 L251.68,290.00 L252.21,289.81 L252.74,289.61 L253.27,289.42 L253.80,289.24 L254.33,289.05 L254.86,288.88 L255.39,288.70 L255.92,288.53 L256.44,288.36 L256.97,288.20 L257.50,288.04 L258.03,287.88 L258.56,287.73 L259.09,287.58 L259.62,287.44 L260.15,287.30 L260.68,287.16 L261.21,287.03 L261.74,286.91 L262.27,286.79 L262.80,286.67 L263.33,286.55 L263.86,286.44 L264.39,286.33 L264.92,286.23 L265.45,286.12 L265.98,286.02 L266.51,285.92 L267.04,285.82 L267.57,285.72 L268.10,285.62 L268.63,285.53 L269.16,285.44 L269.69,285.36 L270.22,285.27 L270.75,285.19 L271.28,285.12 L271.81,285.04 L272.34,284.98 L272.87,284.91 L273.40,284.85 L273.92,284.80 L274.45,284.74 L274.98,284.70 L275.51,284.65 L276.04,284.62 L276.57,284.58 L277.10,284.55 L277.63,284.51 L278.16,284.48 L278.69,284.46 L279.22,284.43 L279.75,284.40 L280.28,284.38 L280.81,284.35 L281.34,284.33 L281.87,284.31 L282.40,284.29 L282.93,284.27 L283.46,284.25 L283.99,284.23 L284.52,284.21 L285.05,284.19 L285.58,284.17 L286.11,284.16 L286.64,284.14 L287.17,284.12 L287.70,284.11 L288.23,284.09 L288.76,284.08 L289.29,284.06 L289.82,284.04 L290.35,284.03 L290.88,284.01 L291.40,284.00 L291.93,283.98 L292.46,283.96 L292.99,283.95 L293.52,283.93 L294.05,283.91 L294.58,283.89 L295.11,283.87 L295.64,283.86 L296.17,283.84 L296.70,283.82 L297.23,283.80 L297.76,283.78 L298.29,283.76 L298.82,283.74 L299.35,283.72 L299.88,283.70 L300.41,283.68 L300.94,283.66 L301.47,283.64 L302.00,283.62 L302.53,283.60 L303.06,283.58 L303.59,283.56 L304.12,283.55 L304.65,283.53 L305.18,283.51 L305.71,283.50 L306.24,283.48 L306.77,283.47 L307.30,283.45 L307.83,283.44 L308.36,283.43 L308.88,283.42 L309.41,283.40 L309.94,283.39 L310.47,283.39 L311.00,283.38 L311.53,283.37 L312.06,283.36 L312.59,283.35 L313.12,283.34 L313.65,283.33 L314.18,283.33 L314.71,283.32 L315.24,283.31 L315.77,283.30 L316.30,283.29 L316.83,283.29 L317.36,283.28 L317.89,283.27 L318.42,283.26 L318.95,283.25 L319.48,283.25 L320.01,283.24 L320.54,283.23 L321.07,283.22 L321.60,283.22 L322.13,283.21 L322.66,283.20 L323.19,283.19 L323.72,283.19 L324.25,283.18 L324.78,283.17 L325.31,283.16 L325.84,283.16 L326.37,283.15 L326.89,283.14 L327.42,283.14 L327.95,283.13 L328.48,283.12 L329.01,283.11 L329.54,283.11 L330.07,283.10 L330.60,283.09 L331.13,283.09 L331.66,283.08 L332.19,283.07 L332.72,283.07 L333.25,283.06 L333.78,283.05 L334.31,283.05 L334.84,283.04 L335.37,283.03 L335.90,283.03 L336.43,283.02 L336.96,283.02 L337.49,283.01 L338.02,283.00 L338.55,283.00 L339.08,282.99 L339.61,282.98 L340.14,282.98 L340.67,282.97 L341.20,282.97 L341.73,282.96 L342.26,282.96 L342.79,282.95 L343.32,282.94 L343.85,282.94 L344.37,282.93 L344.90,282.93 L345.43,282.92 L345.96,282.92 L346.49,282.91 L347.02,282.91 L347.55,282.90 L348.08,282.89 L348.61,282.89 L349.14,282.88 L349.67,282.88 L350.20,282.87 L350.73,282.87 L351.26,282.86 L351.79,282.86 L352.32,282.85 L352.85,282.85 L353.38,282.85 L353.91,282.84 L354.44,282.84 L354.97,282.83 L355.50,282.83 L356.03,282.82 L356.56,282.82 L357.09,282.81 L357.62,282.81 L358.15,282.81 L358.68,282.80 L359.21,282.80 L359.74,282.79 L360.27,282.79 L360.80,282.79 L361.33,282.78 L361.86,282.78 L362.38,282.77 L362.91,282.77 L363.44,282.77 L363.97,282.76 L364.50,282.76 L365.03,282.76 L365.56,282.75 L366.09,282.75 L366.62,282.75 L367.15,282.74 L367.68,282.74 L368.21,282.74 L368.74,282.73 L369.27,282.73 L369.80,282.73 L370.33,282.72 L370.86,282.72 L371.39,282.72 L371.92,282.72 L372.45,282.71 L372.98,282.71 L373.51,282.71 L374.04,282.71 L374.57,282.70 L375.10,282.70 L375.63,282.70 L376.16,282.70 L376.69,282.69 L377.22,282.69 L377.75,282.69 L378.28,282.69 L378.81,282.69 L379.34,282.68 L379.86,282.68 L380.39,282.68 L380.92,282.68 L381.45,282.68 L381.98,282.68 L382.51,282.68 L383.04,282.67 L383.57,282.67 L384.10,282.67 L384.63,282.67 L385.16,282.67 L385.69,282.67 L386.22,282.67 L386.75,282.67 L387.28,282.67 L387.81,282.66 L388.34,282.66 L388.87,282.66 L389.40,282.66 L389.93,282.66 L390.46,282.66 L390.99,282.66 L391.52,282.66 L392.05,282.66 L392.58,282.66 L393.11,282.66 L393.64,282.66" fill="none" stroke="#ff9a50" stroke-width="0.75" stroke-linejoin="round" stroke-linecap="butt" />
<path d="M260.15,279.47 L260.68,278.92 L261.21,278.37 L261.74,277.81 L262.27,277.24 L262.80,276.67 L263.33,276.11 L263.86,275.54 L264.39,274.97 L264.92,274.42 L265.45,273.87 L265.98,273.34 L266.51,272.82 L267.04,272.32 L267.57,271.84 L268.10,271.39 L268.63,270.96 L269.16,270.55 L269.69,270.16 L270.22,269.79 L270.75,269.43 L271.28,269.09 L271.81,268.77 L272.34,268.45 L272.87,268.14 L273.40,267.84 L273.92,267.54 L274.45,267.26 L274.98,266.98 L275.51,266.71 L276.04,266.45 L276.57,266.20 L277.10,265.95 L277.63,265.71 L278.16,265.48 L278.69,265.25 L279.22,265.03 L279.75,264.82 L280.28,264.62 L280.81,264.42 L281.34,264.23 L281.87,264.04 L282.40,263.86 L282.93,263.68 L283.46,263.51 L283.99,263.35 L284.52,263.19 L285.05,263.03 L285.58,262.88 L286.11,262.73 L286.64,262.58 L287.17,262.44 L287.70,262.30 L288.23,262.16 L288.76,262.03 L289.29,261.90 L289.82,261.78 L290.35,261.65 L290.88,261.53 L291.40,261.42 L291.93,261.31 L292.46,261.20 L292.99,261.09 L293.52,260.99 L294.05,260.88 L294.58,260.79 L295.11,260.69 L295.64,260.60 L296.17,260.50 L296.70,260.42 L297.23,260.33 L297.76,260.26 L298.29,260.19 L298.82,260.12 L299.35,260.06 L299.88,260.01 L300.41,259.96 L300.94,259.92 L301.47,259.88 L302.00,259.85 L302.53,259.81 L303.06,259.78 L303.59,259.75 L304.12,259.72 L304.65,259.69 L305.18,259.66 L305.71,259.63 L306.24,259.61 L306.77,259.58 L307.30,259.56 L307.83,259.53 L308.36,259.51 L308.88,259.49 L309.41,259.46 L309.94,259.44 L310.47,259.42 L311.00,259.40 L311.53,259.39 L312.06,259.37 L312.59,259.35 L313.12,259.34 L313.65,259.32 L314.18,259.31 L314.71,259.30 L315.24,259.29 L315.77,259.28 L316.30,259.27 L316.83,259.26 L317.36,259.26 L317.89,259.25 L318.42,259.25 L318.95,259.24 L319.48,259.24 L320.01,259.24 L320.54,259.24 L321.07,259.24 L321.60,259.24 L322.13,259.24 L322.66,259.24 L323.19,259.24 L323.72,259.24 L324.25,259.24 L324.78,259.24 L325.31,259.24 L325.84,259.24 L326.37,259.24 L326.89,259.24 L327.42,259.24 L327.95,259.24 L328.48,259.24 L329.01,259.24 L329.54,259.24 L330.07,259.24 L330.60,259.24 L331.13,259.24 L331.66,259.24 L332.19,259.24 L332.72,259.24 L333.25,259.24 L333.78,259.24 L334.31,259.24 L334.84,259.24 L335.37,259.24 L335.90,259.24 L336.43,259.24 L336.96,259.24 L337.49,259.24 L338.02,259.24 L338.55,259.24 L339.08,259.24 L339.61,259.24 L340.14,259.24 L340.67,259.24 L341.20,259.24 L341.73,259.24 L342.26,259.24 L342.79,259.24 L343.32,259.24 L343.85,259.24 L344.37,259.24 L344.90,259.24 L345.43,259.24 L345.96,259.24 L346.49,259.24 L347.02,259.24 L347.55,259.24 L348.08,259.24 L348.61,259.24 L349.14,259.24 L349.67,259.24 L350.20,259.24 L350.73,259.24 L351.26,259.24 L351.79,259.24 L352.32,259.24 L352.85,259.24 L353.38,259.24 L353.91,259.24 L354.44,259.24 L354.97,259.24 L355.50,259.24 L356.03,259.24 L356.56,259.24 L357.09,259.24 L357.62,259.24 L358.15,259.24 L358.68,259.24 L359.21,259.24 L359.74,259.24 L360.27,259.24 L360.80,259.24 L361.33,259.24 L361.86,259.24 L362.38,259.24 L362.91,259.24 L363.44,259.24 L363.97,259.24 L364.50,259.24 L365.03,259.24 L365.56,259.24 L366.09,259.24 L366.62,259.24 L367.15,259.24 L367.68,259.24 L368.21,259.24 L368.74,259.24 L369.27,259.24 L369.80,259.24 L370.33,259.24 L370.86,259.24 L371.39,259.24 L371.92,259.24 L372.45,259.24 L372.98,259.24 L373.51,259.24 L374.04,259.24 L374.57,259.24 L375.10,259.24 L375.63,259.24 L376.16,259.24 L376.69,259.24 L377.22,259.24 L377.75,259.24 L378.28,259.24 L378.81,259.24 L379.34,259.24 L379.86,259.24 L380.39,259.24 L380.92,259.24 L381.45,259.24 L381.98,259.24 L382.51,259.24 L383.04,259.24 L383.57,259.24 L384.10,259.24 L384.63,259.24 L385.16,259.24 L385.69,259.24 L386.22,259.24 L386.75,259.24 L387.28,259.24 L387.81,259.24 L388.34,259.24 L388.87,259.24 L389.40,259.24 L389.93,259.24 L390.46,259.24 L390.99,259.24 L391.52,259.24 L392.05,259.24 L392.58,259.24 L393.11,259.24 L393.64,259.24" fill="none" stroke="#d040d0" stroke-width="0.85" stroke-linejoin="round" stroke-linecap="butt" />
<g fill="#0000ff"><circle cx="176.46" cy="424.42" r="1.1"/><circle cx="176.99" cy="424.31" r="1.1"/><circle cx="177.52" cy="424.18" r="1.1"/><circle cx="178.05" cy="424.04" r="1.1"/><circle cx="178.58" cy="423.89" r="1.1"/><circle cx="179.11" cy="423.72" r="1.1"/><circle cx="179.64" cy="423.55" r="1.1"/><circle cx="180.17" cy="423.36" r="1.1"/><circle cx="180.70" cy="423.17" r="1.1"/><circle cx="181.23" cy="422.97" r="1.1"/><circle cx="181.76" cy="422.77" r="1.1"/><circle cx="182.29" cy="422.55" r="1.1"/><circle cx="182.82" cy="422.34" r="1.1"/><circle cx="183.35" cy="422.11" r="1.1"/><circle cx="183.88" cy="421.89" r="1.1"/><circle cx="184.41" cy="421.66" r="1.1"/><circle cx="184.94" cy="421.42" r="1.1"/><circle cx="185.46" cy="421.17" r="1.1"/><circle cx="185.99" cy="420.89" r="1.1"/><circle cx="186.52" cy="420.59" r="1.1"/><circle cx="187.05" cy="420.26" r="1.1"/><circle cx="187.58" cy="419.89" r="1.1"/><circle cx="188.11" cy="419.48" r="1.1"/><circle cx="188.64" cy="418.99" r="1.1"/><circle cx="189.17" cy="418.35" r="1.1"/><circle cx="189.70" cy="417.56" r="1.1"/><circle cx="190.23" cy="416.67" r="1.1"/><circle cx="190.76" cy="415.71" r="1.1"/><circle cx="191.29" cy="414.70" r="1.1"/><circle cx="191.82" cy="413.69" r="1.1"/><circle cx="192.35" cy="412.68" r="1.1"/><circle cx="192.88" cy="411.61" r="1.1"/><circle cx="193.41" cy="410.48" r="1.1"/><circle cx="193.94" cy="409.30" r="1.1"/><circle cx="194.47" cy="408.07" r="1.1"/><circle cx="195.00" cy="406.81" r="1.1"/><circle cx="195.53" cy="405.52" r="1.1"/><circle cx="196.06" cy="404.20" r="1.1"/><circle cx="196.59" cy="402.84" r="1.1"/><circle cx="197.12" cy="401.43" r="1.1"/><circle cx="197.65" cy="399.98" r="1.1"/><circle cx="198.18" cy="398.48" r="1.1"/><circle cx="198.71" cy="396.92" r="1.1"/><circle cx="199.24" cy="395.31" r="1.1"/><circle cx="199.77" cy="393.62" r="1.1"/><circle cx="200.30" cy="391.85" r="1.1"/><circle cx="200.83" cy="390.00" r="1.1"/><circle cx="201.36" cy="388.08" r="1.1"/><circle cx="201.89" cy="386.10" r="1.1"/><circle cx="202.42" cy="384.08" r="1.1"/><circle cx="202.94" cy="381.95" r="1.1"/><circle cx="203.47" cy="379.74" r="1.1"/><circle cx="204.00" cy="377.48" r="1.1"/><circle cx="204.53" cy="375.20" r="1.1"/><circle cx="205.06" cy="372.92" r="1.1"/><circle cx="205.59" cy="370.68" r="1.1"/><circle cx="206.12" cy="368.44" r="1.1"/><circle cx="206.65" cy="366.11" r="1.1"/><circle cx="207.18" cy="363.61" r="1.1"/><circle cx="207.71" cy="360.93" r="1.1"/><circle cx="208.24" cy="358.12" r="1.1"/><circle cx="208.77" cy="355.25" r="1.1"/><circle cx="209.30" cy="352.38" r="1.1"/><circle cx="209.83" cy="349.60" r="1.1"/><circle cx="210.36" cy="346.88" r="1.1"/><circle cx="210.89" cy="344.13" r="1.1"/><circle cx="211.42" cy="341.42" r="1.1"/><circle cx="211.95" cy="338.87" r="1.1"/><circle cx="212.48" cy="336.58" r="1.1"/><circle cx="213.01" cy="334.50" r="1.1"/><circle cx="213.54" cy="332.52" r="1.1"/><circle cx="214.07" cy="330.69" r="1.1"/><circle cx="214.60" cy="329.06" r="1.1"/><circle cx="215.13" cy="327.67" r="1.1"/><circle cx="215.66" cy="326.46" r="1.1"/><circle cx="216.19" cy="325.38" r="1.1"/><circle cx="216.72" cy="324.44" r="1.1"/><circle cx="217.25" cy="323.65" r="1.1"/><circle cx="217.78" cy="322.99" r="1.1"/><circle cx="218.31" cy="322.41" r="1.1"/><circle cx="218.84" cy="321.90" r="1.1"/><circle cx="219.37" cy="321.41" r="1.1"/><circle cx="219.90" cy="320.92" r="1.1"/><circle cx="220.43" cy="320.42" r="1.1"/><circle cx="220.95" cy="319.93" r="1.1"/><circle cx="221.48" cy="319.45" r="1.1"/><circle cx="222.01" cy="318.97" r="1.1"/><circle cx="222.54" cy="318.51" r="1.1"/><circle cx="223.07" cy="318.05" r="1.1"/><circle cx="223.60" cy="317.59" r="1.1"/><circle cx="224.13" cy="317.12" r="1.1"/><circle cx="224.66" cy="316.66" r="1.1"/><circle cx="225.19" cy="316.19" r="1.1"/><circle cx="225.72" cy="315.72" r="1.1"/><circle cx="226.25" cy="315.25" r="1.1"/><circle cx="226.78" cy="314.77" r="1.1"/><circle cx="227.31" cy="314.30" r="1.1"/><circle cx="227.84" cy="313.83" r="1.1"/><circle cx="228.37" cy="313.36" r="1.1"/><circle cx="228.90" cy="312.89" r="1.1"/><circle cx="229.43" cy="312.41" r="1.1"/><circle cx="229.96" cy="311.94" r="1.1"/><circle cx="230.49" cy="311.46" r="1.1"/><circle cx="231.02" cy="310.99" r="1.1"/><circle cx="231.55" cy="310.52" r="1.1"/><circle cx="232.08" cy="310.04" r="1.1"/><circle cx="232.61" cy="309.55" r="1.1"/><circle cx="233.14" cy="309.06" r="1.1"/><circle cx="233.67" cy="308.56" r="1.1"/><circle cx="234.20" cy="308.05" r="1.1"/><circle cx="234.73" cy="307.53" r="1.1"/><circle cx="235.26" cy="307.01" r="1.1"/><circle cx="235.79" cy="306.49" r="1.1"/><circle cx="236.32" cy="305.96" r="1.1"/><circle cx="236.85" cy="305.43" r="1.1"/><circle cx="237.38" cy="304.90" r="1.1"/><circle cx="237.91" cy="304.38" r="1.1"/><circle cx="238.43" cy="303.85" r="1.1"/><circle cx="238.96" cy="303.33" r="1.1"/><circle cx="239.49" cy="302.81" r="1.1"/><circle cx="240.02" cy="302.29" r="1.1"/><circle cx="240.55" cy="301.77" r="1.1"/><circle cx="241.08" cy="301.24" r="1.1"/><circle cx="241.61" cy="300.72" r="1.1"/><circle cx="242.14" cy="300.19" r="1.1"/><circle cx="242.67" cy="299.66" r="1.1"/><circle cx="243.20" cy="299.12" r="1.1"/><circle cx="243.73" cy="298.58" r="1.1"/><circle cx="244.26" cy="298.03" r="1.1"/><circle cx="244.79" cy="297.48" r="1.1"/><circle cx="245.32" cy="296.92" r="1.1"/><circle cx="245.85" cy="296.35" r="1.1"/><circle cx="246.38" cy="295.77" r="1.1"/><circle cx="246.91" cy="295.20" r="1.1"/><circle cx="247.44" cy="294.62" r="1.1"/><circle cx="247.97" cy="294.03" r="1.1"/><circle cx="248.50" cy="293.45" r="1.1"/><circle cx="249.03" cy="292.86" r="1.1"/><circle cx="249.56" cy="292.28" r="1.1"/><circle cx="250.09" cy="291.70" r="1.1"/><circle cx="250.62" cy="291.12" r="1.1"/><circle cx="251.15" cy="290.54" r="1.1"/><circle cx="251.68" cy="289.97" r="1.1"/><circle cx="252.21" cy="289.41" r="1.1"/><circle cx="252.74" cy="288.85" r="1.1"/><circle cx="253.27" cy="288.29" r="1.1"/><circle cx="253.80" cy="287.73" r="1.1"/><circle cx="254.33" cy="287.16" r="1.1"/><circle cx="254.86" cy="286.57" r="1.1"/><circle cx="255.39" cy="285.97" r="1.1"/><circle cx="255.92" cy="285.34" r="1.1"/><circle cx="256.44" cy="284.70" r="1.1"/><circle cx="256.97" cy="284.04" r="1.1"/><circle cx="257.50" cy="283.36" r="1.1"/><circle cx="258.03" cy="282.67" r="1.1"/><circle cx="258.56" cy="281.97" r="1.1"/><circle cx="259.09" cy="281.24" r="1.1"/><circle cx="259.62" cy="280.51" r="1.1"/><circle cx="260.15" cy="279.76" r="1.1"/><circle cx="260.68" cy="279.00" r="1.1"/></g>
<rect x="165.6" y="251.2" width="238.90" height="182.80" fill="none" stroke="#6a6a6a" stroke-width="0.55"/>
<line x1="176.46" y1="434.0" x2="176.46" y2="435.70" stroke="#555" stroke-width="0.45"/>
<text transform="translate(176.46,440.30) scale(1,1.0)" font-size="5.0" text-anchor="middle" class="tk" fill="#333">0</text>
<line x1="229.43" y1="434.0" x2="229.43" y2="435.70" stroke="#555" stroke-width="0.45"/>
<text transform="translate(229.43,440.30) scale(1,1.0)" font-size="5.0" text-anchor="middle" class="tk" fill="#333">100</text>
<line x1="282.40" y1="434.0" x2="282.40" y2="435.70" stroke="#555" stroke-width="0.45"/>
<text transform="translate(282.40,440.30) scale(1,1.0)" font-size="5.0" text-anchor="middle" class="tk" fill="#333">200</text>
<line x1="335.37" y1="434.0" x2="335.37" y2="435.70" stroke="#555" stroke-width="0.45"/>
<text transform="translate(335.37,440.30) scale(1,1.0)" font-size="5.0" text-anchor="middle" class="tk" fill="#333">300</text>
<line x1="388.34" y1="434.0" x2="388.34" y2="435.70" stroke="#555" stroke-width="0.45"/>
<text transform="translate(388.34,440.30) scale(1,1.0)" font-size="5.0" text-anchor="middle" class="tk" fill="#333">400</text>
<line x1="163.90" y1="425.40" x2="165.6" y2="425.40" stroke="#555" stroke-width="0.45"/>
<text transform="translate(163.20,427.75) scale(1,1.0)" font-size="5.0" text-anchor="end" class="tk" fill="#333">0.0</text>
<line x1="163.90" y1="401.00" x2="165.6" y2="401.00" stroke="#555" stroke-width="0.45"/>
<text transform="translate(163.20,403.35) scale(1,1.0)" font-size="5.0" text-anchor="end" class="tk" fill="#333">0.5</text>
<line x1="163.90" y1="376.60" x2="165.6" y2="376.60" stroke="#555" stroke-width="0.45"/>
<text transform="translate(163.20,378.95) scale(1,1.0)" font-size="5.0" text-anchor="end" class="tk" fill="#333">1.0</text>
<line x1="163.90" y1="352.20" x2="165.6" y2="352.20" stroke="#555" stroke-width="0.45"/>
<text transform="translate(163.20,354.55) scale(1,1.0)" font-size="5.0" text-anchor="end" class="tk" fill="#333">1.5</text>
<line x1="163.90" y1="327.80" x2="165.6" y2="327.80" stroke="#555" stroke-width="0.45"/>
<text transform="translate(163.20,330.15) scale(1,1.0)" font-size="5.0" text-anchor="end" class="tk" fill="#333">2.0</text>
<line x1="163.90" y1="303.40" x2="165.6" y2="303.40" stroke="#555" stroke-width="0.45"/>
<text transform="translate(163.20,305.75) scale(1,1.0)" font-size="5.0" text-anchor="end" class="tk" fill="#333">2.5</text>
<line x1="163.90" y1="279.00" x2="165.6" y2="279.00" stroke="#555" stroke-width="0.45"/>
<text transform="translate(163.20,281.35) scale(1,1.0)" font-size="5.0" text-anchor="end" class="tk" fill="#333">3.0</text>
<line x1="163.90" y1="254.60" x2="165.6" y2="254.60" stroke="#555" stroke-width="0.45"/>
<text transform="translate(163.20,256.95) scale(1,1.0)" font-size="5.0" text-anchor="end" class="tk" fill="#333">3.5</text>
<text x="165.60" y="249.90" font-size="3.2" class="t" fill="#444">1e6</text>
<text x="284.05" y="249.20" font-size="6.68" text-anchor="middle" class="tt" fill="#2a2a2a">Prediction of Omicron infection in Portugal</text>
<text x="285.05" y="447.40" font-size="6.6" text-anchor="middle" class="t" fill="#2a2a2a">Days</text>
<text transform="translate(151.70,342.60) rotate(-90)" x="0" y="0" font-size="6.63" text-anchor="middle" class="t" fill="#2a2a2a">Cumulative Omicron Infection</text>
<rect x="167.5" y="253.0" width="63.6" height="45.8" rx="1.2" fill="#fff" fill-opacity="0.85" stroke="#e4e4e4" stroke-width="0.5"/>
<circle cx="176.65" cy="258.80" r="1.15" fill="#0000ff"/>
<text x="187.8" y="261.35" font-size="5.85" class="t" fill="#2a2a2a">Omicron Data</text>
<line x1="170.6" y1="267.40" x2="182.7" y2="267.40" stroke="#5d9fd3" stroke-width="0.8" />
<text x="187.8" y="269.95" font-size="5.85" class="t" fill="#2a2a2a">Constant</text>
<line x1="170.6" y1="276.00" x2="182.7" y2="276.00" stroke="#e09a90" stroke-width="1.2" />
<text x="187.8" y="278.55" font-size="5.85" class="t" fill="#2a2a2a">Rational</text>
<line x1="170.6" y1="284.60" x2="182.7" y2="284.60" stroke="#ff9a50" stroke-width="0.75" />
<text x="187.8" y="287.15" font-size="5.85" class="t" fill="#2a2a2a">Birational</text>
<line x1="170.6" y1="293.20" x2="182.7" y2="293.20" stroke="#d040d0" stroke-width="0.85" />
<text x="187.8" y="295.75" font-size="5.85" class="t" fill="#2a2a2a">Time-series</text>
</g>
<text x="135.2" y="234.9" font-family="'Liberation Serif',serif" font-size="16.6" text-anchor="middle" fill="#111">(<tspan font-weight="bold">a</tspan>)</text>
<text x="416.7" y="234.9" font-family="'Liberation Serif',serif" font-size="16.6" text-anchor="middle" fill="#111">(<tspan font-weight="bold">b</tspan>)</text>
<text x="276.0" y="470.7" font-family="'Liberation Serif',serif" font-size="16.6" text-anchor="middle" fill="#111">(<tspan font-weight="bold">c</tspan>)</text>
</svg>
</body></html>
